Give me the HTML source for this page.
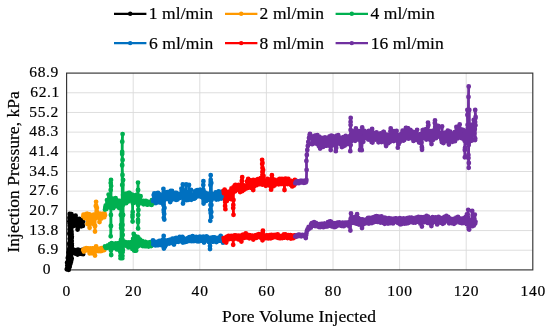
<!DOCTYPE html>
<html lang="en"><head><meta charset="utf-8"><title>Injection Pressure vs Pore Volume Injected</title>
<style>html,body{margin:0;padding:0;background:#fff}body{width:550px;height:330px;overflow:hidden}</style></head>
<body>
<svg width="550" height="330" viewBox="0 0 550 330" style="display:block">
<rect width="550" height="330" fill="#fff"/>
<path d="M66.6 92.78H532.8M66.6 112.46H532.8M66.6 132.14H532.8M66.6 151.82H532.8M66.6 171.50H532.8M66.6 191.18H532.8M66.6 210.86H532.8M66.6 230.54H532.8M66.6 250.22H532.8M133.20 73.1V269.9M199.80 73.1V269.9M266.40 73.1V269.9M333.00 73.1V269.9M399.60 73.1V269.9M466.20 73.1V269.9" stroke="#DADADA" stroke-width="0.9" fill="none"/>
<rect x="66.6" y="73.1" width="466.19999999999993" height="196.79999999999998" fill="none" stroke="#333333" stroke-width="1.15"/>
<path d="M68.3 267.9 L69.7 266.8 L69.8 264.7 L68.5 268.8 L68.0 268.8 L67.3 269.3 L69.5 260.4 L70.6 257.6 L70.1 263.3 L71.7 258.5 L68.0 267.1 L68.1 267.9 L70.9 261.4 L70.9 258.8 L70.4 262.1 L70.0 255.1 L69.0 261.4 L70.0 262.7 L71.8 249.4 L69.5 260.2 L67.6 268.0 L69.4 254.7 L70.8 257.1 L71.8 245.6 L70.7 242.3 L70.4 263.8 L70.2 243.1 L68.7 269.8 L70.9 261.9 L70.8 253.2 L71.9 250.5 L68.4 269.3 L71.7 241.0 L67.2 269.1 L69.3 243.5 L70.5 256.3 L68.9 267.8 L71.0 260.2 L71.3 237.6 L70.7 260.2 L69.4 252.1 L71.4 259.8 L69.7 248.6 L70.3 236.1 L69.4 244.6 L70.6 240.3 L69.7 251.2 L71.6 243.6 L71.6 236.0 L70.0 247.2 L69.4 233.2 L68.8 265.5 L70.7 254.9 L70.6 226.8 L71.7 237.7 L70.1 239.6 L69.0 263.4 L71.3 244.0 L69.7 232.3 L70.4 252.4 L69.8 261.4 L70.6 248.5 L71.0 240.7 L71.6 245.0 L71.3 223.4 L69.8 265.0 L70.9 243.1 L71.6 249.2 L69.7 254.9 L69.1 262.4 L69.5 244.9 L70.5 246.7 L69.6 265.3 L70.8 224.2 L69.4 234.1 L70.6 249.2 L69.8 238.8 L70.0 233.3 L69.6 234.5 L69.7 221.2 L69.3 260.6 L71.4 250.8 L69.6 222.1 L70.1 225.0 L69.7 225.8 L71.7 243.7 L71.9 217.6 L71.6 253.4 L71.1 217.4 L69.7 243.8 L71.1 242.9 L70.2 228.2 L70.3 244.2 L69.5 217.9 L69.9 226.4 L71.6 234.2 L71.3 245.3 L69.6 223.5 L71.6 238.5 L69.2 260.7 L70.6 222.6 L71.7 246.9 L70.4 216.1 L70.0 215.6 L70.3 228.7 L71.6 258.2 L71.4 214.2 L69.9 232.6 L71.1 228.6 L70.4 245.2 L69.9 218.1 L71.4 224.1 L70.3 250.0 L70.7 239.5 L70.0 219.9 L71.3 245.7 L69.5 250.7 L69.5 217.5 L71.7 237.8 L70.0 228.0 L71.4 237.9 L70.8 227.8 L70.6 232.4 L71.0 216.2 L71.8 236.6 L69.8 217.4 L70.5 234.0 L70.2 215.0 L69.9 221.0 L70.3 246.5 L70.8 234.8 L70.4 228.6 L71.0 235.8 L70.6 236.5 L71.2 222.7 L70.7 233.8 L69.6 218.8 L69.8 225.1 L71.8 243.8 L69.6 229.3 L71.3 217.3 L71.8 226.4 L70.4 223.1 L69.9 223.9 L71.4 231.4 L70.4 229.7 L70.1 228.2 L70.5 215.3 L70.8 227.6 L70.8 220.0 L70.8 231.7 L70.4 220.9 L71.4 232.8 L71.0 218.8 L70.9 219.8 L71.3 216.2 L70.6 217.3 L70.5 223.7 L71.6 215.4 L71.0 218.1 L69.3 221.4 L70.6 227.2 L71.4 222.2 L70.5 218.5 L71.7 221.4 L70.2 219.7 L69.9 221.3 L70.4 214.2 L69.7 214.0 L71.8 215.3 L72.0 217.7 L72.3 225.8 L72.6 220.6 L72.9 226.2 L73.2 218.5 L73.5 225.9 L73.8 221.9 L74.1 221.2 L74.4 216.9 L74.7 221.0 L75.0 223.2 L75.3 225.3 L75.6 215.7 L75.9 220.8 L76.2 219.1 L76.5 220.1 L76.8 225.4 L77.1 224.7 L77.4 218.9 L77.6 229.5 L77.7 226.1 L78.0 221.3 L78.3 227.0 L78.6 221.2 L78.9 220.4 L79.2 218.8 L79.5 220.5 L79.8 220.1 L80.1 222.5 L80.4 221.3 L80.7 225.9 L81.0 223.5 L81.3 226.3 L81.6 224.2 L81.9 224.3 L82.2 224.4 L82.5 220.0 L82.8 225.9 L83.1 221.6" fill="none" stroke="#000000" stroke-width="2.8" stroke-linejoin="round" stroke-linecap="round"/>
<path d="M68.3 267.9h0M69.7 266.8h0M69.8 264.7h0M68.5 268.8h0M68.0 268.8h0M67.3 269.3h0M69.5 260.4h0M70.6 257.6h0M70.1 263.3h0M71.7 258.5h0M68.0 267.1h0M68.1 267.9h0M70.9 261.4h0M70.9 258.8h0M70.4 262.1h0M70.0 255.1h0M69.0 261.4h0M70.0 262.7h0M71.8 249.4h0M69.5 260.2h0M67.6 268.0h0M69.4 254.7h0M70.8 257.1h0M71.8 245.6h0M70.7 242.3h0M70.4 263.8h0M70.2 243.1h0M68.7 269.8h0M70.9 261.9h0M70.8 253.2h0M71.9 250.5h0M68.4 269.3h0M71.7 241.0h0M67.2 269.1h0M69.3 243.5h0M70.5 256.3h0M68.9 267.8h0M71.0 260.2h0M71.3 237.6h0M70.7 260.2h0M69.4 252.1h0M71.4 259.8h0M69.7 248.6h0M70.3 236.1h0M69.4 244.6h0M70.6 240.3h0M69.7 251.2h0M71.6 243.6h0M71.6 236.0h0M70.0 247.2h0M69.4 233.2h0M68.8 265.5h0M70.7 254.9h0M70.6 226.8h0M71.7 237.7h0M70.1 239.6h0M69.0 263.4h0M71.3 244.0h0M69.7 232.3h0M70.4 252.4h0M69.8 261.4h0M70.6 248.5h0M71.0 240.7h0M71.6 245.0h0M71.3 223.4h0M69.8 265.0h0M70.9 243.1h0M71.6 249.2h0M69.7 254.9h0M69.1 262.4h0M69.5 244.9h0M70.5 246.7h0M69.6 265.3h0M70.8 224.2h0M69.4 234.1h0M70.6 249.2h0M69.8 238.8h0M70.0 233.3h0M69.6 234.5h0M69.7 221.2h0M69.3 260.6h0M71.4 250.8h0M69.6 222.1h0M70.1 225.0h0M69.7 225.8h0M71.7 243.7h0M71.9 217.6h0M71.6 253.4h0M71.1 217.4h0M69.7 243.8h0M71.1 242.9h0M70.2 228.2h0M70.3 244.2h0M69.5 217.9h0M69.9 226.4h0M71.6 234.2h0M71.3 245.3h0M69.6 223.5h0M71.6 238.5h0M69.2 260.7h0M70.6 222.6h0M71.7 246.9h0M70.4 216.1h0M70.0 215.6h0M70.3 228.7h0M71.6 258.2h0M71.4 214.2h0M69.9 232.6h0M71.1 228.6h0M70.4 245.2h0M69.9 218.1h0M71.4 224.1h0M70.3 250.0h0M70.7 239.5h0M70.0 219.9h0M71.3 245.7h0M69.5 250.7h0M69.5 217.5h0M71.7 237.8h0M70.0 228.0h0M71.4 237.9h0M70.8 227.8h0M70.6 232.4h0M71.0 216.2h0M71.8 236.6h0M69.8 217.4h0M70.5 234.0h0M70.2 215.0h0M69.9 221.0h0M70.3 246.5h0M70.8 234.8h0M70.4 228.6h0M71.0 235.8h0M70.6 236.5h0M71.2 222.7h0M70.7 233.8h0M69.6 218.8h0M69.8 225.1h0M71.8 243.8h0M69.6 229.3h0M71.3 217.3h0M71.8 226.4h0M70.4 223.1h0M69.9 223.9h0M71.4 231.4h0M70.4 229.7h0M70.1 228.2h0M70.5 215.3h0M70.8 227.6h0M70.8 220.0h0M70.8 231.7h0M70.4 220.9h0M71.4 232.8h0M71.0 218.8h0M70.9 219.8h0M71.3 216.2h0M70.6 217.3h0M70.5 223.7h0M71.6 215.4h0M71.0 218.1h0M69.3 221.4h0M70.6 227.2h0M71.4 222.2h0M70.5 218.5h0M71.7 221.4h0M70.2 219.7h0M69.9 221.3h0M70.4 214.2h0M69.7 214.0h0M71.8 215.3h0M72.0 217.7h0M72.3 225.8h0M72.6 220.6h0M72.9 226.2h0M73.2 218.5h0M73.5 225.9h0M73.8 221.9h0M74.1 221.2h0M74.4 216.9h0M74.7 221.0h0M75.0 223.2h0M75.3 225.3h0M75.6 215.7h0M75.9 220.8h0M76.2 219.1h0M76.5 220.1h0M76.8 225.4h0M77.1 224.7h0M77.4 218.9h0M77.6 229.5h0M77.7 226.1h0M78.0 221.3h0M78.3 227.0h0M78.6 221.2h0M78.9 220.4h0M79.2 218.8h0M79.5 220.5h0M79.8 220.1h0M80.1 222.5h0M80.4 221.3h0M80.7 225.9h0M81.0 223.5h0M81.3 226.3h0M81.6 224.2h0M81.9 224.3h0M82.2 224.4h0M82.5 220.0h0M82.8 225.9h0M83.1 221.6h0" fill="none" stroke="#000000" stroke-width="4.8" stroke-linecap="round"/>
<path d="M66.8 269.2 L68.2 265.9 L67.7 265.2 L67.7 264.8 L67.1 262.7 L67.3 265.6 L68.0 261.2 L68.9 264.2 L68.2 259.0 L67.8 257.9 L68.2 257.0 L68.2 256.9 L68.9 259.2 L69.4 255.9 L68.9 255.6 L69.0 253.8 L68.5 252.6 L70.3 250.9 L69.6 252.5 L70.4 249.6 L69.0 254.4 L69.3 249.5 L69.6 253.3 L69.9 252.2 L70.2 251.1 L70.5 253.0 L70.8 253.7 L71.1 249.9 L71.4 251.7 L71.7 253.5 L72.0 252.2 L72.3 251.4 L72.6 249.6 L72.9 250.4 L73.2 252.2 L73.5 249.9 L73.8 252.2 L74.1 249.9 L74.4 251.7 L74.7 251.1 L75.0 252.4 L75.3 250.8 L75.6 253.7 L75.9 253.4 L76.2 250.5 L76.5 253.7 L76.8 250.3 L77.1 251.7 L77.4 251.4 L77.6 254.6 L77.7 253.6 L78.0 249.7 L78.3 251.4 L78.6 250.4 L78.9 252.8 L79.2 250.4 L79.5 250.9 L79.8 250.6 L80.1 252.9 L80.4 253.7 L80.7 250.4 L81.0 251.4 L81.3 253.7 L81.6 251.3 L81.9 253.9 L82.2 249.9 L82.5 251.4 L82.8 253.6 L83.1 254.2" fill="none" stroke="#000000" stroke-width="2.8" stroke-linejoin="round" stroke-linecap="round"/>
<path d="M66.8 269.2h0M68.2 265.9h0M67.7 265.2h0M67.7 264.8h0M67.1 262.7h0M67.3 265.6h0M68.0 261.2h0M68.9 264.2h0M68.2 259.0h0M67.8 257.9h0M68.2 257.0h0M68.2 256.9h0M68.9 259.2h0M69.4 255.9h0M68.9 255.6h0M69.0 253.8h0M68.5 252.6h0M70.3 250.9h0M69.6 252.5h0M70.4 249.6h0M69.0 254.4h0M69.3 249.5h0M69.6 253.3h0M69.9 252.2h0M70.2 251.1h0M70.5 253.0h0M70.8 253.7h0M71.1 249.9h0M71.4 251.7h0M71.7 253.5h0M72.0 252.2h0M72.3 251.4h0M72.6 249.6h0M72.9 250.4h0M73.2 252.2h0M73.5 249.9h0M73.8 252.2h0M74.1 249.9h0M74.4 251.7h0M74.7 251.1h0M75.0 252.4h0M75.3 250.8h0M75.6 253.7h0M75.9 253.4h0M76.2 250.5h0M76.5 253.7h0M76.8 250.3h0M77.1 251.7h0M77.4 251.4h0M77.6 254.6h0M77.7 253.6h0M78.0 249.7h0M78.3 251.4h0M78.6 250.4h0M78.9 252.8h0M79.2 250.4h0M79.5 250.9h0M79.8 250.6h0M80.1 252.9h0M80.4 253.7h0M80.7 250.4h0M81.0 251.4h0M81.3 253.7h0M81.6 251.3h0M81.9 253.9h0M82.2 249.9h0M82.5 251.4h0M82.8 253.6h0M83.1 254.2h0" fill="none" stroke="#000000" stroke-width="4.8" stroke-linecap="round"/>
<path d="M83.2 216.3 L83.5 214.7 L83.9 216.3 L84.2 215.1 L84.5 215.4 L84.8 218.1 L85.2 216.3 L85.5 216.3 L85.8 218.3 L86.2 215.6 L86.5 214.0 L86.8 217.5 L87.2 213.9 L87.5 214.0 L87.4 224.0 L87.8 217.1 L88.1 215.3 L88.5 218.3 L88.8 215.3 L89.1 215.7 L89.5 214.4 L89.7 224.0 L89.6 227.8 L89.7 224.0 L89.8 214.7 L90.1 216.9 L90.5 219.2 L90.8 216.1 L91.1 217.2 L91.4 215.7 L91.8 218.3 L92.1 218.4 L92.4 216.3 L92.4 223.5 L92.8 218.3 L93.1 215.5 L93.4 215.7 L93.8 214.7 L94.1 215.9 L94.4 218.5 L94.7 215.6 L94.8 226.0 L95.0 231.6 L95.1 226.0 L95.1 216.4 L95.4 216.2 L95.7 217.3 L96.2 206.0 L96.1 201.8 L95.8 206.0 L96.1 218.0 L96.4 216.5 L96.7 217.1 L96.9 208.0 L96.9 212.0 L97.1 214.3 L97.4 216.0 L97.7 215.0 L98.0 215.3 L98.4 216.5 L98.7 217.2 L99.0 214.8 L99.5 222.0 L99.4 216.8 L99.7 214.0 L100.0 213.6 L100.4 215.5 L100.7 214.6 L101.0 215.1 L101.3 216.8 L101.3 218.5 L101.7 216.1 L102.0 214.5 L102.3 214.3 L102.7 214.8 L103.0 216.7 L103.3 213.7 L103.7 216.8 L104.0 215.0 L104.3 217.2 L104.6 213.7 L105.0 215.2" fill="none" stroke="#FF9900" stroke-width="2.8" stroke-linejoin="round" stroke-linecap="round"/>
<path d="M83.2 216.3h0M83.5 214.7h0M83.9 216.3h0M84.2 215.1h0M84.5 215.4h0M84.8 218.1h0M85.2 216.3h0M85.5 216.3h0M85.8 218.3h0M86.2 215.6h0M86.5 214.0h0M86.8 217.5h0M87.2 213.9h0M87.5 214.0h0M87.4 224.0h0M87.8 217.1h0M88.1 215.3h0M88.5 218.3h0M88.8 215.3h0M89.1 215.7h0M89.5 214.4h0M89.7 224.0h0M89.6 227.8h0M89.7 224.0h0M89.8 214.7h0M90.1 216.9h0M90.5 219.2h0M90.8 216.1h0M91.1 217.2h0M91.4 215.7h0M91.8 218.3h0M92.1 218.4h0M92.4 216.3h0M92.4 223.5h0M92.8 218.3h0M93.1 215.5h0M93.4 215.7h0M93.8 214.7h0M94.1 215.9h0M94.4 218.5h0M94.7 215.6h0M94.8 226.0h0M95.0 231.6h0M95.1 226.0h0M95.1 216.4h0M95.4 216.2h0M95.7 217.3h0M96.2 206.0h0M96.1 201.8h0M95.8 206.0h0M96.1 218.0h0M96.4 216.5h0M96.7 217.1h0M96.9 208.0h0M96.9 212.0h0M97.1 214.3h0M97.4 216.0h0M97.7 215.0h0M98.0 215.3h0M98.4 216.5h0M98.7 217.2h0M99.0 214.8h0M99.5 222.0h0M99.4 216.8h0M99.7 214.0h0M100.0 213.6h0M100.4 215.5h0M100.7 214.6h0M101.0 215.1h0M101.3 216.8h0M101.3 218.5h0M101.7 216.1h0M102.0 214.5h0M102.3 214.3h0M102.7 214.8h0M103.0 216.7h0M103.3 213.7h0M103.7 216.8h0M104.0 215.0h0M104.3 217.2h0M104.6 213.7h0M105.0 215.2h0" fill="none" stroke="#FF9900" stroke-width="4.8" stroke-linecap="round"/>
<path d="M83.2 249.9 L83.5 250.0 L83.9 251.6 L84.2 249.9 L84.5 251.0 L84.8 248.6 L85.2 249.8 L85.5 249.7 L85.8 249.7 L86.2 248.2 L86.5 250.2 L86.8 248.3 L87.2 249.2 L87.5 248.5 L87.8 249.7 L88.1 248.4 L88.5 250.6 L88.8 248.6 L89.1 251.0 L89.5 249.6 L89.7 253.4 L89.8 249.3 L90.1 250.0 L90.5 248.5 L90.8 248.7 L91.1 250.7 L91.4 248.6 L91.8 249.3 L91.9 253.0 L92.1 248.5 L92.4 250.5 L92.8 248.4 L93.1 250.7 L93.4 251.1 L93.8 250.4 L94.1 250.6 L94.4 250.0 L94.7 250.0 L95.0 255.6 L95.1 249.9 L95.4 250.6 L95.7 249.4 L96.1 251.1 L96.1 246.3 L96.4 250.1 L96.7 248.9 L97.1 248.7 L97.4 250.0 L97.7 250.4 L98.0 250.6 L98.4 249.9 L98.7 249.8 L99.0 251.2 L99.4 250.9 L99.7 250.5 L100.0 248.7 L100.4 249.7 L100.7 251.0 L101.0 250.6 L101.3 248.2 L101.7 250.4 L102.0 250.8 L102.3 250.5 L102.7 249.5 L103.0 248.5 L103.3 249.5 L103.7 248.0 L104.0 248.4 L104.3 250.0 L104.6 248.4 L105.0 248.2" fill="none" stroke="#FF9900" stroke-width="2.8" stroke-linejoin="round" stroke-linecap="round"/>
<path d="M83.2 249.9h0M83.5 250.0h0M83.9 251.6h0M84.2 249.9h0M84.5 251.0h0M84.8 248.6h0M85.2 249.8h0M85.5 249.7h0M85.8 249.7h0M86.2 248.2h0M86.5 250.2h0M86.8 248.3h0M87.2 249.2h0M87.5 248.5h0M87.8 249.7h0M88.1 248.4h0M88.5 250.6h0M88.8 248.6h0M89.1 251.0h0M89.5 249.6h0M89.7 253.4h0M89.8 249.3h0M90.1 250.0h0M90.5 248.5h0M90.8 248.7h0M91.1 250.7h0M91.4 248.6h0M91.8 249.3h0M91.9 253.0h0M92.1 248.5h0M92.4 250.5h0M92.8 248.4h0M93.1 250.7h0M93.4 251.1h0M93.8 250.4h0M94.1 250.6h0M94.4 250.0h0M94.7 250.0h0M95.0 255.6h0M95.1 249.9h0M95.4 250.6h0M95.7 249.4h0M96.1 251.1h0M96.1 246.3h0M96.4 250.1h0M96.7 248.9h0M97.1 248.7h0M97.4 250.0h0M97.7 250.4h0M98.0 250.6h0M98.4 249.9h0M98.7 249.8h0M99.0 251.2h0M99.4 250.9h0M99.7 250.5h0M100.0 248.7h0M100.4 249.7h0M100.7 251.0h0M101.0 250.6h0M101.3 248.2h0M101.7 250.4h0M102.0 250.8h0M102.3 250.5h0M102.7 249.5h0M103.0 248.5h0M103.3 249.5h0M103.7 248.0h0M104.0 248.4h0M104.3 250.0h0M104.6 248.4h0M105.0 248.2h0" fill="none" stroke="#FF9900" stroke-width="4.8" stroke-linecap="round"/>
<path d="M105.0 209.6 L105.3 207.3 L105.7 205.6 L106.0 205.5 L106.3 209.1 L106.6 206.4 L107.0 200.1 L107.3 200.2 L107.6 202.4 L108.0 207.2 L108.3 200.2 L108.6 194.6 L109.0 201.5 L109.3 201.5 L109.6 203.9 L109.9 200.0 L110.3 202.9 L110.6 207.8 L110.7 190.0 L110.7 183.0 L111.0 179.9 L111.1 186.0 L111.0 200.0 L110.9 215.0 L110.8 226.0 L110.7 236.3 L111.0 226.0 L110.9 215.0 L110.8 205.0 L110.9 204.8 L111.3 208.0 L111.6 200.9 L111.9 198.8 L112.3 202.6 L112.6 199.1 L112.9 198.6 L113.2 208.2 L113.6 200.5 L113.9 203.7 L114.2 206.8 L114.6 201.6 L114.9 198.8 L115.2 206.4 L115.6 198.2 L115.9 205.9 L116.2 205.8 L116.5 200.4 L116.9 200.5 L117.2 201.6 L117.5 205.3 L117.9 205.5 L118.2 203.8 L118.5 206.3 L118.9 200.8 L119.2 208.1 L119.5 207.2 L119.8 200.8 L120.2 205.8 L120.5 205.9 L120.8 207.3 L120.8 215.0 L121.1 228.0 L121.0 240.0 L121.0 250.0 L121.0 240.0 L121.1 225.0 L121.2 202.8 L121.5 204.7 L121.8 201.7 L122.2 202.7 L122.3 185.0 L122.5 175.0 L122.2 165.5 L122.6 160.0 L122.2 154.0 L122.2 152.0 L122.2 141.7 L122.6 134.1 L122.3 141.7 L122.2 152.0 L122.2 165.0 L122.2 185.0 L122.5 205.0 L122.5 225.0 L122.5 240.0 L122.5 252.0 L122.2 245.0 L122.4 230.0 L122.3 215.0 L122.5 204.8 L122.8 205.2 L123.1 180.0 L123.1 195.0 L123.1 215.0 L122.7 235.0 L122.8 250.0 L122.7 235.0 L122.7 215.0 L123.1 204.4 L123.5 201.9 L123.8 201.5 L124.1 195.7 L124.5 202.0 L124.8 197.2 L125.1 194.0 L125.5 196.6 L125.8 197.4 L126.1 203.2 L126.4 202.0 L126.8 193.7 L127.1 197.6 L127.4 196.6 L127.8 198.4 L128.1 201.6 L128.4 201.1 L128.8 192.8 L129.1 200.4 L129.4 192.9 L129.7 197.8 L130.1 194.9 L130.4 196.6 L130.7 195.9 L131.1 196.2 L131.4 200.5 L131.7 194.7 L132.1 194.6 L132.4 200.8 L132.7 212.0 L132.5 217.0 L132.6 221.5 L132.5 215.0 L132.7 202.8 L133.1 202.8 L133.4 195.9 L133.7 202.9 L134.0 197.6 L134.4 196.1 L134.7 199.0 L135.0 201.2 L135.4 197.1 L135.7 195.1 L136.0 200.1 L136.4 195.2 L136.7 201.2 L137.0 194.7 L137.3 202.3 L137.7 195.4 L138.0 200.4 L138.0 190.0 L138.0 182.6 L138.1 190.0 L138.1 205.0 L138.2 215.0 L138.0 222.0 L138.1 228.5 L138.0 220.0 L138.4 210.0 L138.3 200.7 L138.7 203.0 L139.0 197.2 L139.3 201.2 L139.7 197.6 L140.0 199.6 L140.3 196.4 L140.6 196.2 L141.0 202.7 L141.3 201.6 L141.6 202.0 L142.0 202.7 L142.3 203.4 L142.6 201.9 L143.0 203.6 L143.3 200.9 L143.6 204.3 L143.9 203.4 L144.3 203.3 L144.6 202.1 L144.9 203.1 L145.3 202.0 L145.6 203.5 L145.9 201.0 L146.3 202.1 L146.6 201.8 L146.9 204.5 L147.2 203.0 L147.6 201.6 L147.9 204.6 L148.2 202.3 L148.6 203.5 L148.9 202.2 L149.2 202.4 L149.6 203.2 L149.9 202.8 L150.2 202.3 L150.5 204.5 L150.9 203.2 L151.2 203.7 L151.5 204.9 L151.9 200.1 L152.2 201.6 L152.5 202.1 L152.9 203.5" fill="none" stroke="#00B050" stroke-width="2.8" stroke-linejoin="round" stroke-linecap="round"/>
<path d="M105.0 209.6h0M105.3 207.3h0M105.7 205.6h0M106.0 205.5h0M106.3 209.1h0M106.6 206.4h0M107.0 200.1h0M107.3 200.2h0M107.6 202.4h0M108.0 207.2h0M108.3 200.2h0M108.6 194.6h0M109.0 201.5h0M109.3 201.5h0M109.6 203.9h0M109.9 200.0h0M110.3 202.9h0M110.6 207.8h0M110.7 190.0h0M110.7 183.0h0M111.0 179.9h0M111.1 186.0h0M111.0 200.0h0M110.9 215.0h0M110.8 226.0h0M110.7 236.3h0M111.0 226.0h0M110.9 215.0h0M110.8 205.0h0M110.9 204.8h0M111.3 208.0h0M111.6 200.9h0M111.9 198.8h0M112.3 202.6h0M112.6 199.1h0M112.9 198.6h0M113.2 208.2h0M113.6 200.5h0M113.9 203.7h0M114.2 206.8h0M114.6 201.6h0M114.9 198.8h0M115.2 206.4h0M115.6 198.2h0M115.9 205.9h0M116.2 205.8h0M116.5 200.4h0M116.9 200.5h0M117.2 201.6h0M117.5 205.3h0M117.9 205.5h0M118.2 203.8h0M118.5 206.3h0M118.9 200.8h0M119.2 208.1h0M119.5 207.2h0M119.8 200.8h0M120.2 205.8h0M120.5 205.9h0M120.8 207.3h0M120.8 215.0h0M121.1 228.0h0M121.0 240.0h0M121.0 250.0h0M121.0 240.0h0M121.1 225.0h0M121.2 202.8h0M121.5 204.7h0M121.8 201.7h0M122.2 202.7h0M122.3 185.0h0M122.5 175.0h0M122.2 165.5h0M122.6 160.0h0M122.2 154.0h0M122.2 152.0h0M122.2 141.7h0M122.6 134.1h0M122.3 141.7h0M122.2 152.0h0M122.2 165.0h0M122.2 185.0h0M122.5 205.0h0M122.5 225.0h0M122.5 240.0h0M122.5 252.0h0M122.2 245.0h0M122.4 230.0h0M122.3 215.0h0M122.5 204.8h0M122.8 205.2h0M123.1 180.0h0M123.1 195.0h0M123.1 215.0h0M122.7 235.0h0M122.8 250.0h0M122.7 235.0h0M122.7 215.0h0M123.1 204.4h0M123.5 201.9h0M123.8 201.5h0M124.1 195.7h0M124.5 202.0h0M124.8 197.2h0M125.1 194.0h0M125.5 196.6h0M125.8 197.4h0M126.1 203.2h0M126.4 202.0h0M126.8 193.7h0M127.1 197.6h0M127.4 196.6h0M127.8 198.4h0M128.1 201.6h0M128.4 201.1h0M128.8 192.8h0M129.1 200.4h0M129.4 192.9h0M129.7 197.8h0M130.1 194.9h0M130.4 196.6h0M130.7 195.9h0M131.1 196.2h0M131.4 200.5h0M131.7 194.7h0M132.1 194.6h0M132.4 200.8h0M132.7 212.0h0M132.5 217.0h0M132.6 221.5h0M132.5 215.0h0M132.7 202.8h0M133.1 202.8h0M133.4 195.9h0M133.7 202.9h0M134.0 197.6h0M134.4 196.1h0M134.7 199.0h0M135.0 201.2h0M135.4 197.1h0M135.7 195.1h0M136.0 200.1h0M136.4 195.2h0M136.7 201.2h0M137.0 194.7h0M137.3 202.3h0M137.7 195.4h0M138.0 200.4h0M138.0 190.0h0M138.0 182.6h0M138.1 190.0h0M138.1 205.0h0M138.2 215.0h0M138.0 222.0h0M138.1 228.5h0M138.0 220.0h0M138.4 210.0h0M138.3 200.7h0M138.7 203.0h0M139.0 197.2h0M139.3 201.2h0M139.7 197.6h0M140.0 199.6h0M140.3 196.4h0M140.6 196.2h0M141.0 202.7h0M141.3 201.6h0M141.6 202.0h0M142.0 202.7h0M142.3 203.4h0M142.6 201.9h0M143.0 203.6h0M143.3 200.9h0M143.6 204.3h0M143.9 203.4h0M144.3 203.3h0M144.6 202.1h0M144.9 203.1h0M145.3 202.0h0M145.6 203.5h0M145.9 201.0h0M146.3 202.1h0M146.6 201.8h0M146.9 204.5h0M147.2 203.0h0M147.6 201.6h0M147.9 204.6h0M148.2 202.3h0M148.6 203.5h0M148.9 202.2h0M149.2 202.4h0M149.6 203.2h0M149.9 202.8h0M150.2 202.3h0M150.5 204.5h0M150.9 203.2h0M151.2 203.7h0M151.5 204.9h0M151.9 200.1h0M152.2 201.6h0M152.5 202.1h0M152.9 203.5h0" fill="none" stroke="#00B050" stroke-width="4.8" stroke-linecap="round"/>
<path d="M105.0 246.3 L105.3 246.6 L105.7 247.8 L106.0 246.9 L106.3 247.0 L106.6 247.8 L107.0 247.8 L107.3 246.5 L107.6 246.6 L108.0 245.5 L108.3 246.2 L108.6 246.2 L109.0 246.5 L109.3 246.9 L109.6 247.6 L109.9 244.2 L110.3 247.4 L110.6 243.9 L110.9 246.5 L110.8 250.0 L111.2 255.0 L111.1 250.0 L111.3 243.9 L111.6 243.2 L111.9 246.9 L112.3 243.5 L112.6 247.2 L112.9 247.7 L113.2 247.1 L113.6 247.8 L113.9 247.5 L114.2 246.7 L114.6 247.0 L114.9 247.9 L115.2 244.4 L115.6 243.8 L115.9 243.4 L116.2 243.9 L116.5 245.9 L116.9 249.4 L117.2 247.8 L117.5 246.2 L117.9 247.7 L118.2 245.2 L118.5 243.1 L118.9 246.7 L119.2 245.8 L119.5 247.5 L119.8 247.7 L120.2 244.8 L120.2 250.0 L120.5 256.0 L120.5 258.2 L120.3 252.0 L120.5 246.8 L120.8 244.6 L121.2 246.2 L121.5 244.3 L121.8 244.9 L122.2 243.4 L122.4 250.0 L122.4 256.0 L122.3 258.2 L122.4 252.0 L122.5 247.1 L122.8 246.0 L123.1 243.2 L123.5 244.6 L123.8 245.6 L124.1 245.2 L124.5 244.1 L124.8 241.9 L125.1 242.1 L125.5 244.4 L125.8 245.5 L126.1 244.7 L126.4 244.9 L126.8 244.9 L127.1 242.9 L127.4 244.5 L127.8 242.6 L128.1 242.4 L128.4 247.4 L128.8 244.4 L129.1 246.7 L129.4 243.7 L129.7 244.6 L130.1 244.5 L130.4 247.2 L130.7 245.0 L131.1 242.2 L131.4 245.0 L131.7 243.3 L132.1 242.7 L132.4 248.9 L132.7 243.4 L133.1 239.0 L133.4 240.3 L133.7 234.0 L134.1 250.5 L134.0 239.1 L134.4 238.6 L134.7 235.9 L135.0 245.6 L135.4 245.7 L135.7 237.6 L136.1 237.5 L136.2 250.5 L136.0 245.4 L136.4 244.2 L136.7 242.1 L137.0 239.7 L137.3 246.8 L137.7 236.9 L138.0 246.2 L138.3 240.2 L138.7 238.5 L139.0 242.1 L139.3 240.7 L139.7 241.7 L140.0 239.6 L140.3 242.0 L140.6 243.8 L141.0 242.5 L141.3 245.4 L141.6 243.5 L142.0 241.0 L142.3 244.4 L142.6 242.7 L143.0 246.2 L143.3 244.4 L143.6 243.7 L143.9 243.6 L144.3 244.9 L144.6 246.0 L144.9 241.9 L145.3 244.0 L145.6 246.0 L145.9 242.1 L146.3 246.0 L146.6 244.8 L146.9 246.2 L147.2 245.3 L147.6 243.6 L147.9 244.7 L148.2 242.9 L148.6 246.6 L148.9 244.9 L149.2 244.2 L149.6 243.1 L149.9 245.7 L150.2 242.1 L150.5 245.5 L150.9 244.5 L151.2 246.0 L151.5 243.9 L151.9 242.4 L152.2 242.3 L152.5 243.1 L152.9 243.3" fill="none" stroke="#00B050" stroke-width="2.8" stroke-linejoin="round" stroke-linecap="round"/>
<path d="M105.0 246.3h0M105.3 246.6h0M105.7 247.8h0M106.0 246.9h0M106.3 247.0h0M106.6 247.8h0M107.0 247.8h0M107.3 246.5h0M107.6 246.6h0M108.0 245.5h0M108.3 246.2h0M108.6 246.2h0M109.0 246.5h0M109.3 246.9h0M109.6 247.6h0M109.9 244.2h0M110.3 247.4h0M110.6 243.9h0M110.9 246.5h0M110.8 250.0h0M111.2 255.0h0M111.1 250.0h0M111.3 243.9h0M111.6 243.2h0M111.9 246.9h0M112.3 243.5h0M112.6 247.2h0M112.9 247.7h0M113.2 247.1h0M113.6 247.8h0M113.9 247.5h0M114.2 246.7h0M114.6 247.0h0M114.9 247.9h0M115.2 244.4h0M115.6 243.8h0M115.9 243.4h0M116.2 243.9h0M116.5 245.9h0M116.9 249.4h0M117.2 247.8h0M117.5 246.2h0M117.9 247.7h0M118.2 245.2h0M118.5 243.1h0M118.9 246.7h0M119.2 245.8h0M119.5 247.5h0M119.8 247.7h0M120.2 244.8h0M120.2 250.0h0M120.5 256.0h0M120.5 258.2h0M120.3 252.0h0M120.5 246.8h0M120.8 244.6h0M121.2 246.2h0M121.5 244.3h0M121.8 244.9h0M122.2 243.4h0M122.4 250.0h0M122.4 256.0h0M122.3 258.2h0M122.4 252.0h0M122.5 247.1h0M122.8 246.0h0M123.1 243.2h0M123.5 244.6h0M123.8 245.6h0M124.1 245.2h0M124.5 244.1h0M124.8 241.9h0M125.1 242.1h0M125.5 244.4h0M125.8 245.5h0M126.1 244.7h0M126.4 244.9h0M126.8 244.9h0M127.1 242.9h0M127.4 244.5h0M127.8 242.6h0M128.1 242.4h0M128.4 247.4h0M128.8 244.4h0M129.1 246.7h0M129.4 243.7h0M129.7 244.6h0M130.1 244.5h0M130.4 247.2h0M130.7 245.0h0M131.1 242.2h0M131.4 245.0h0M131.7 243.3h0M132.1 242.7h0M132.4 248.9h0M132.7 243.4h0M133.1 239.0h0M133.4 240.3h0M133.7 234.0h0M134.1 250.5h0M134.0 239.1h0M134.4 238.6h0M134.7 235.9h0M135.0 245.6h0M135.4 245.7h0M135.7 237.6h0M136.1 237.5h0M136.2 250.5h0M136.0 245.4h0M136.4 244.2h0M136.7 242.1h0M137.0 239.7h0M137.3 246.8h0M137.7 236.9h0M138.0 246.2h0M138.3 240.2h0M138.7 238.5h0M139.0 242.1h0M139.3 240.7h0M139.7 241.7h0M140.0 239.6h0M140.3 242.0h0M140.6 243.8h0M141.0 242.5h0M141.3 245.4h0M141.6 243.5h0M142.0 241.0h0M142.3 244.4h0M142.6 242.7h0M143.0 246.2h0M143.3 244.4h0M143.6 243.7h0M143.9 243.6h0M144.3 244.9h0M144.6 246.0h0M144.9 241.9h0M145.3 244.0h0M145.6 246.0h0M145.9 242.1h0M146.3 246.0h0M146.6 244.8h0M146.9 246.2h0M147.2 245.3h0M147.6 243.6h0M147.9 244.7h0M148.2 242.9h0M148.6 246.6h0M148.9 244.9h0M149.2 244.2h0M149.6 243.1h0M149.9 245.7h0M150.2 242.1h0M150.5 245.5h0M150.9 244.5h0M151.2 246.0h0M151.5 243.9h0M151.9 242.4h0M152.2 242.3h0M152.5 243.1h0M152.9 243.3h0" fill="none" stroke="#00B050" stroke-width="4.8" stroke-linecap="round"/>
<path d="M153.0 200.9 L153.3 199.8 L153.7 195.1 L154.0 194.6 L154.3 193.5 L154.7 197.3 L155.0 196.4 L155.3 200.0 L155.6 197.3 L156.0 193.3 L155.9 203.0 L156.3 196.9 L156.6 200.1 L157.0 195.4 L157.3 193.5 L157.6 200.4 L158.0 192.8 L158.3 195.7 L158.6 200.6 L158.9 193.9 L159.3 199.8 L159.6 202.4 L159.9 195.8 L160.3 202.6 L160.6 197.5 L160.9 201.4 L161.3 197.7 L161.6 196.0 L161.9 196.1 L162.2 195.7 L162.6 194.3 L162.9 195.5 L163.2 201.2 L163.6 200.9 L163.8 192.0 L163.4 189.0 L163.6 195.0 L163.4 205.0 L163.8 212.0 L163.8 217.8 L163.7 210.0 L163.9 196.7 L164.2 199.5 L164.5 208.0 L164.2 214.0 L164.3 219.5 L164.2 208.0 L164.6 198.4 L164.9 193.6 L165.2 194.6 L165.5 193.6 L165.9 199.1 L166.2 193.5 L166.5 194.6 L166.9 192.7 L167.2 192.1 L167.5 197.0 L167.9 195.3 L168.2 193.3 L168.5 194.1 L168.8 199.3 L169.2 191.8 L169.5 198.4 L169.8 197.1 L170.2 202.1 L170.5 198.1 L170.8 190.8 L171.2 198.7 L171.5 193.7 L171.8 199.8 L172.0 191.0 L172.1 193.6 L172.5 198.9 L172.8 194.2 L173.1 193.3 L173.5 196.6 L173.8 194.3 L174.1 198.4 L174.5 197.4 L174.8 193.2 L175.1 196.0 L175.4 193.2 L175.8 195.5 L176.1 199.9 L176.4 192.9 L176.8 196.7 L177.1 194.9 L177.4 199.5 L177.8 193.8 L178.1 197.7 L178.4 196.2 L178.7 195.9 L179.1 197.2 L179.4 198.1 L179.7 196.5 L180.1 196.6 L180.4 197.6 L180.7 193.9 L181.1 194.1 L181.4 188.6 L181.7 190.8 L182.0 189.7 L182.4 197.6 L182.7 190.1 L182.8 184.5 L182.8 190.0 L183.0 203.5 L183.0 195.6 L183.4 197.2 L183.7 199.2 L184.0 190.6 L184.4 195.6 L184.7 193.4 L185.0 194.8 L185.3 196.7 L185.7 191.9 L186.1 184.5 L186.0 192.0 L186.3 200.2 L186.7 194.5 L187.0 195.4 L187.3 199.8 L187.7 193.1 L188.0 193.0 L188.3 199.8 L188.6 199.0 L189.0 198.3 L189.0 185.0 L189.3 199.5 L189.6 191.9 L190.0 196.1 L190.3 195.1 L190.6 194.1 L191.0 189.8 L191.3 199.8 L191.6 199.2 L191.9 197.9 L192.3 198.5 L192.6 196.5 L192.9 196.8 L193.3 195.7 L193.6 196.3 L193.9 195.3 L194.3 198.7 L194.6 193.2 L194.9 191.4 L195.2 198.0 L195.6 192.2 L195.9 194.1 L196.2 190.6 L196.6 191.9 L196.9 191.8 L197.2 190.2 L197.6 196.3 L197.9 194.1 L198.2 191.1 L198.5 193.2 L198.9 194.5 L199.2 192.0 L199.5 191.3 L199.9 192.6 L200.2 189.6 L200.5 196.5 L200.9 194.0 L201.2 191.8 L201.5 192.0 L201.8 191.1 L202.2 197.3 L202.5 191.1 L202.8 194.6 L203.2 192.4 L203.5 199.8 L203.3 185.0 L203.4 181.2 L203.4 190.0 L203.6 202.0 L203.6 203.5 L203.8 199.3 L204.2 196.9 L204.5 199.0 L204.8 196.9 L205.1 198.8 L205.5 194.0 L205.8 193.0 L206.1 197.7 L206.5 200.8 L206.8 196.2 L207.1 199.9 L207.5 195.8 L207.8 196.4 L208.1 195.0 L208.4 197.1 L208.8 195.2 L209.1 199.5 L209.4 196.2 L209.8 194.9 L210.1 197.0 L210.4 192.9 L210.4 185.0 L210.7 180.0 L210.7 175.2 L210.7 182.0 L210.4 195.0 L210.5 205.0 L210.7 213.0 L210.3 220.8 L210.3 210.0 L210.8 196.6 L211.1 199.4 L211.3 183.0 L211.5 200.0 L211.3 212.0 L211.3 217.0 L211.4 205.0 L211.4 194.8 L211.7 196.3 L212.1 199.1 L212.4 195.5 L212.7 194.2 L213.1 195.8 L213.4 198.4 L213.7 195.2 L214.1 196.3 L214.4 194.0 L214.7 198.0 L215.0 193.9 L215.4 198.1 L215.7 192.3 L216.0 197.1 L216.4 199.5 L216.7 194.9 L217.0 193.8 L217.4 195.6 L217.7 192.9 L218.0 196.2 L218.3 199.3 L218.7 191.4 L219.0 197.3 L219.3 197.5 L219.7 193.1 L220.0 195.3 L220.3 192.0 L220.7 194.9 L221.0 195.6 L221.3 198.5 L221.6 193.8 L222.0 191.9 L222.3 191.7 L222.6 192.4 L223.0 198.0 L223.3 198.1" fill="none" stroke="#0070C0" stroke-width="2.8" stroke-linejoin="round" stroke-linecap="round"/>
<path d="M153.0 200.9h0M153.3 199.8h0M153.7 195.1h0M154.0 194.6h0M154.3 193.5h0M154.7 197.3h0M155.0 196.4h0M155.3 200.0h0M155.6 197.3h0M156.0 193.3h0M155.9 203.0h0M156.3 196.9h0M156.6 200.1h0M157.0 195.4h0M157.3 193.5h0M157.6 200.4h0M158.0 192.8h0M158.3 195.7h0M158.6 200.6h0M158.9 193.9h0M159.3 199.8h0M159.6 202.4h0M159.9 195.8h0M160.3 202.6h0M160.6 197.5h0M160.9 201.4h0M161.3 197.7h0M161.6 196.0h0M161.9 196.1h0M162.2 195.7h0M162.6 194.3h0M162.9 195.5h0M163.2 201.2h0M163.6 200.9h0M163.8 192.0h0M163.4 189.0h0M163.6 195.0h0M163.4 205.0h0M163.8 212.0h0M163.8 217.8h0M163.7 210.0h0M163.9 196.7h0M164.2 199.5h0M164.5 208.0h0M164.2 214.0h0M164.3 219.5h0M164.2 208.0h0M164.6 198.4h0M164.9 193.6h0M165.2 194.6h0M165.5 193.6h0M165.9 199.1h0M166.2 193.5h0M166.5 194.6h0M166.9 192.7h0M167.2 192.1h0M167.5 197.0h0M167.9 195.3h0M168.2 193.3h0M168.5 194.1h0M168.8 199.3h0M169.2 191.8h0M169.5 198.4h0M169.8 197.1h0M170.2 202.1h0M170.5 198.1h0M170.8 190.8h0M171.2 198.7h0M171.5 193.7h0M171.8 199.8h0M172.0 191.0h0M172.1 193.6h0M172.5 198.9h0M172.8 194.2h0M173.1 193.3h0M173.5 196.6h0M173.8 194.3h0M174.1 198.4h0M174.5 197.4h0M174.8 193.2h0M175.1 196.0h0M175.4 193.2h0M175.8 195.5h0M176.1 199.9h0M176.4 192.9h0M176.8 196.7h0M177.1 194.9h0M177.4 199.5h0M177.8 193.8h0M178.1 197.7h0M178.4 196.2h0M178.7 195.9h0M179.1 197.2h0M179.4 198.1h0M179.7 196.5h0M180.1 196.6h0M180.4 197.6h0M180.7 193.9h0M181.1 194.1h0M181.4 188.6h0M181.7 190.8h0M182.0 189.7h0M182.4 197.6h0M182.7 190.1h0M182.8 184.5h0M182.8 190.0h0M183.0 203.5h0M183.0 195.6h0M183.4 197.2h0M183.7 199.2h0M184.0 190.6h0M184.4 195.6h0M184.7 193.4h0M185.0 194.8h0M185.3 196.7h0M185.7 191.9h0M186.1 184.5h0M186.0 192.0h0M186.3 200.2h0M186.7 194.5h0M187.0 195.4h0M187.3 199.8h0M187.7 193.1h0M188.0 193.0h0M188.3 199.8h0M188.6 199.0h0M189.0 198.3h0M189.0 185.0h0M189.3 199.5h0M189.6 191.9h0M190.0 196.1h0M190.3 195.1h0M190.6 194.1h0M191.0 189.8h0M191.3 199.8h0M191.6 199.2h0M191.9 197.9h0M192.3 198.5h0M192.6 196.5h0M192.9 196.8h0M193.3 195.7h0M193.6 196.3h0M193.9 195.3h0M194.3 198.7h0M194.6 193.2h0M194.9 191.4h0M195.2 198.0h0M195.6 192.2h0M195.9 194.1h0M196.2 190.6h0M196.6 191.9h0M196.9 191.8h0M197.2 190.2h0M197.6 196.3h0M197.9 194.1h0M198.2 191.1h0M198.5 193.2h0M198.9 194.5h0M199.2 192.0h0M199.5 191.3h0M199.9 192.6h0M200.2 189.6h0M200.5 196.5h0M200.9 194.0h0M201.2 191.8h0M201.5 192.0h0M201.8 191.1h0M202.2 197.3h0M202.5 191.1h0M202.8 194.6h0M203.2 192.4h0M203.5 199.8h0M203.3 185.0h0M203.4 181.2h0M203.4 190.0h0M203.6 202.0h0M203.6 203.5h0M203.8 199.3h0M204.2 196.9h0M204.5 199.0h0M204.8 196.9h0M205.1 198.8h0M205.5 194.0h0M205.8 193.0h0M206.1 197.7h0M206.5 200.8h0M206.8 196.2h0M207.1 199.9h0M207.5 195.8h0M207.8 196.4h0M208.1 195.0h0M208.4 197.1h0M208.8 195.2h0M209.1 199.5h0M209.4 196.2h0M209.8 194.9h0M210.1 197.0h0M210.4 192.9h0M210.4 185.0h0M210.7 180.0h0M210.7 175.2h0M210.7 182.0h0M210.4 195.0h0M210.5 205.0h0M210.7 213.0h0M210.3 220.8h0M210.3 210.0h0M210.8 196.6h0M211.1 199.4h0M211.3 183.0h0M211.5 200.0h0M211.3 212.0h0M211.3 217.0h0M211.4 205.0h0M211.4 194.8h0M211.7 196.3h0M212.1 199.1h0M212.4 195.5h0M212.7 194.2h0M213.1 195.8h0M213.4 198.4h0M213.7 195.2h0M214.1 196.3h0M214.4 194.0h0M214.7 198.0h0M215.0 193.9h0M215.4 198.1h0M215.7 192.3h0M216.0 197.1h0M216.4 199.5h0M216.7 194.9h0M217.0 193.8h0M217.4 195.6h0M217.7 192.9h0M218.0 196.2h0M218.3 199.3h0M218.7 191.4h0M219.0 197.3h0M219.3 197.5h0M219.7 193.1h0M220.0 195.3h0M220.3 192.0h0M220.7 194.9h0M221.0 195.6h0M221.3 198.5h0M221.6 193.8h0M222.0 191.9h0M222.3 191.7h0M222.6 192.4h0M223.0 198.0h0M223.3 198.1h0" fill="none" stroke="#0070C0" stroke-width="4.8" stroke-linecap="round"/>
<path d="M153.0 240.3 L153.3 244.2 L153.7 244.4 L154.0 241.7 L154.3 245.0 L154.7 245.1 L155.0 242.6 L155.3 242.0 L155.6 245.4 L156.0 245.1 L156.3 242.3 L156.6 242.4 L157.0 242.9 L157.3 242.0 L157.6 243.3 L158.0 241.7 L158.3 245.2 L158.6 242.3 L158.9 242.3 L159.3 241.0 L159.6 242.3 L159.9 244.0 L160.3 241.8 L160.6 241.0 L160.9 244.4 L161.3 241.1 L161.6 243.9 L161.9 245.1 L162.2 245.6 L162.6 240.8 L162.9 239.6 L163.2 240.9 L163.6 244.4 L163.7 236.0 L163.9 248.5 L163.9 240.8 L164.2 240.1 L164.6 244.4 L164.9 246.7 L165.2 245.2 L165.5 242.2 L165.9 241.0 L166.2 244.7 L166.5 243.7 L166.9 243.0 L167.2 242.6 L167.5 240.3 L167.9 240.9 L168.2 243.1 L168.5 241.5 L168.8 243.2 L169.2 243.6 L169.5 239.9 L169.8 242.5 L170.2 240.8 L170.5 242.2 L170.8 240.1 L171.2 240.5 L171.5 239.5 L171.8 242.9 L172.1 241.9 L172.5 238.6 L172.8 239.2 L173.1 240.0 L173.5 239.6 L173.8 239.0 L174.0 244.5 L174.1 241.5 L174.5 240.1 L174.8 239.1 L175.1 241.9 L175.4 239.3 L175.8 241.9 L176.1 238.0 L176.4 238.3 L176.8 238.7 L177.1 241.2 L177.4 240.9 L177.8 241.0 L178.1 238.7 L178.4 241.8 L178.7 241.6 L179.1 240.6 L179.4 239.9 L179.7 237.0 L180.1 238.7 L180.4 241.0 L180.7 240.2 L181.1 239.8 L181.4 237.7 L181.7 241.1 L182.0 239.1 L182.4 237.0 L182.7 238.9 L182.9 242.5 L183.0 237.8 L183.4 240.5 L183.7 238.7 L184.0 239.8 L184.4 239.5 L184.7 242.2 L185.0 240.6 L185.3 241.8 L185.7 241.5 L186.0 241.0 L186.3 240.0 L186.7 241.7 L187.0 239.0 L187.3 238.5 L187.7 238.7 L188.0 240.7 L188.3 237.8 L188.6 239.5 L189.0 238.0 L189.3 237.2 L189.6 240.8 L190.0 240.6 L190.3 239.8 L190.6 239.3 L191.0 237.8 L191.3 236.9 L191.6 239.9 L191.9 241.2 L192.3 237.9 L192.6 236.1 L192.9 240.4 L193.3 238.1 L193.6 239.7 L193.9 241.1 L194.3 240.4 L194.6 240.3 L194.9 237.6 L195.2 238.3 L195.6 239.4 L195.9 240.8 L196.2 237.0 L196.6 239.8 L196.9 240.2 L197.2 241.3 L197.6 239.2 L197.9 238.2 L198.2 237.2 L198.5 237.5 L198.9 241.4 L199.2 236.9 L199.5 237.6 L199.9 236.7 L200.2 240.8 L200.5 238.7 L200.9 239.8 L201.2 238.6 L201.5 238.7 L201.8 240.5 L202.2 237.3 L202.5 238.5 L202.8 238.0 L203.2 236.6 L203.5 238.3 L204.0 242.5 L203.8 240.2 L204.2 240.6 L204.5 239.8 L204.8 239.1 L205.1 237.3 L205.5 240.5 L205.8 239.1 L206.1 237.8 L206.5 236.5 L206.8 239.9 L207.1 237.2 L207.5 238.8 L207.8 239.3 L208.1 240.1 L208.4 238.1 L208.8 241.9 L209.1 238.2 L209.4 238.8 L209.8 240.1 L210.0 246.0 L210.0 249.0 L210.1 238.6 L210.4 238.0 L210.8 240.2 L211.1 239.2 L211.4 239.3 L211.7 239.7 L212.1 240.6 L212.4 241.7 L212.7 237.4 L213.1 238.8 L213.4 241.5 L213.7 240.7 L214.1 240.8 L214.4 238.2 L214.7 237.3 L215.0 238.3 L215.4 240.8 L215.7 241.8 L216.0 241.8 L216.4 242.0 L216.7 238.5 L217.0 239.3 L217.4 240.9 L217.7 238.2 L218.0 241.0 L218.3 240.8 L218.7 240.1 L219.0 239.7 L219.3 237.5 L219.7 240.0 L220.0 237.6 L220.3 240.6 L220.7 235.8 L221.0 237.0 L221.3 237.4 L221.6 237.9 L222.0 238.4 L222.3 240.8 L222.6 239.9 L223.0 242.7 L223.3 238.4" fill="none" stroke="#0070C0" stroke-width="2.8" stroke-linejoin="round" stroke-linecap="round"/>
<path d="M153.0 240.3h0M153.3 244.2h0M153.7 244.4h0M154.0 241.7h0M154.3 245.0h0M154.7 245.1h0M155.0 242.6h0M155.3 242.0h0M155.6 245.4h0M156.0 245.1h0M156.3 242.3h0M156.6 242.4h0M157.0 242.9h0M157.3 242.0h0M157.6 243.3h0M158.0 241.7h0M158.3 245.2h0M158.6 242.3h0M158.9 242.3h0M159.3 241.0h0M159.6 242.3h0M159.9 244.0h0M160.3 241.8h0M160.6 241.0h0M160.9 244.4h0M161.3 241.1h0M161.6 243.9h0M161.9 245.1h0M162.2 245.6h0M162.6 240.8h0M162.9 239.6h0M163.2 240.9h0M163.6 244.4h0M163.7 236.0h0M163.9 248.5h0M163.9 240.8h0M164.2 240.1h0M164.6 244.4h0M164.9 246.7h0M165.2 245.2h0M165.5 242.2h0M165.9 241.0h0M166.2 244.7h0M166.5 243.7h0M166.9 243.0h0M167.2 242.6h0M167.5 240.3h0M167.9 240.9h0M168.2 243.1h0M168.5 241.5h0M168.8 243.2h0M169.2 243.6h0M169.5 239.9h0M169.8 242.5h0M170.2 240.8h0M170.5 242.2h0M170.8 240.1h0M171.2 240.5h0M171.5 239.5h0M171.8 242.9h0M172.1 241.9h0M172.5 238.6h0M172.8 239.2h0M173.1 240.0h0M173.5 239.6h0M173.8 239.0h0M174.0 244.5h0M174.1 241.5h0M174.5 240.1h0M174.8 239.1h0M175.1 241.9h0M175.4 239.3h0M175.8 241.9h0M176.1 238.0h0M176.4 238.3h0M176.8 238.7h0M177.1 241.2h0M177.4 240.9h0M177.8 241.0h0M178.1 238.7h0M178.4 241.8h0M178.7 241.6h0M179.1 240.6h0M179.4 239.9h0M179.7 237.0h0M180.1 238.7h0M180.4 241.0h0M180.7 240.2h0M181.1 239.8h0M181.4 237.7h0M181.7 241.1h0M182.0 239.1h0M182.4 237.0h0M182.7 238.9h0M182.9 242.5h0M183.0 237.8h0M183.4 240.5h0M183.7 238.7h0M184.0 239.8h0M184.4 239.5h0M184.7 242.2h0M185.0 240.6h0M185.3 241.8h0M185.7 241.5h0M186.0 241.0h0M186.3 240.0h0M186.7 241.7h0M187.0 239.0h0M187.3 238.5h0M187.7 238.7h0M188.0 240.7h0M188.3 237.8h0M188.6 239.5h0M189.0 238.0h0M189.3 237.2h0M189.6 240.8h0M190.0 240.6h0M190.3 239.8h0M190.6 239.3h0M191.0 237.8h0M191.3 236.9h0M191.6 239.9h0M191.9 241.2h0M192.3 237.9h0M192.6 236.1h0M192.9 240.4h0M193.3 238.1h0M193.6 239.7h0M193.9 241.1h0M194.3 240.4h0M194.6 240.3h0M194.9 237.6h0M195.2 238.3h0M195.6 239.4h0M195.9 240.8h0M196.2 237.0h0M196.6 239.8h0M196.9 240.2h0M197.2 241.3h0M197.6 239.2h0M197.9 238.2h0M198.2 237.2h0M198.5 237.5h0M198.9 241.4h0M199.2 236.9h0M199.5 237.6h0M199.9 236.7h0M200.2 240.8h0M200.5 238.7h0M200.9 239.8h0M201.2 238.6h0M201.5 238.7h0M201.8 240.5h0M202.2 237.3h0M202.5 238.5h0M202.8 238.0h0M203.2 236.6h0M203.5 238.3h0M204.0 242.5h0M203.8 240.2h0M204.2 240.6h0M204.5 239.8h0M204.8 239.1h0M205.1 237.3h0M205.5 240.5h0M205.8 239.1h0M206.1 237.8h0M206.5 236.5h0M206.8 239.9h0M207.1 237.2h0M207.5 238.8h0M207.8 239.3h0M208.1 240.1h0M208.4 238.1h0M208.8 241.9h0M209.1 238.2h0M209.4 238.8h0M209.8 240.1h0M210.0 246.0h0M210.0 249.0h0M210.1 238.6h0M210.4 238.0h0M210.8 240.2h0M211.1 239.2h0M211.4 239.3h0M211.7 239.7h0M212.1 240.6h0M212.4 241.7h0M212.7 237.4h0M213.1 238.8h0M213.4 241.5h0M213.7 240.7h0M214.1 240.8h0M214.4 238.2h0M214.7 237.3h0M215.0 238.3h0M215.4 240.8h0M215.7 241.8h0M216.0 241.8h0M216.4 242.0h0M216.7 238.5h0M217.0 239.3h0M217.4 240.9h0M217.7 238.2h0M218.0 241.0h0M218.3 240.8h0M218.7 240.1h0M219.0 239.7h0M219.3 237.5h0M219.7 240.0h0M220.0 237.6h0M220.3 240.6h0M220.7 235.8h0M221.0 237.0h0M221.3 237.4h0M221.6 237.9h0M222.0 238.4h0M222.3 240.8h0M222.6 239.9h0M223.0 242.7h0M223.3 238.4h0" fill="none" stroke="#0070C0" stroke-width="4.8" stroke-linecap="round"/>
<path d="M223.6 191.0 L223.9 193.2 L224.3 192.5 L224.6 189.6 L224.9 191.3 L225.3 193.2 L225.1 200.0 L225.1 206.0 L225.4 209.2 L225.2 202.0 L225.6 191.8 L225.9 191.8 L226.2 193.9 L226.6 197.4 L226.8 201.0 L226.9 195.8 L227.2 195.8 L227.6 194.6 L227.9 191.8 L228.2 196.2 L228.6 194.6 L228.9 195.1 L229.2 193.1 L229.5 191.8 L229.9 192.0 L230.2 191.4 L230.5 196.2 L230.9 191.4 L230.9 199.0 L231.2 191.1 L231.5 188.4 L231.9 191.7 L232.2 192.3 L232.5 189.0 L232.8 189.6 L233.2 192.4 L233.5 200.0 L233.2 208.0 L233.5 214.8 L233.3 205.0 L233.5 187.1 L233.8 190.4 L234.2 188.2 L234.5 188.4 L234.8 185.3 L235.2 191.3 L235.5 184.9 L235.8 185.4 L236.1 189.4 L236.5 187.0 L236.8 188.5 L237.1 188.7 L237.5 189.3 L237.8 188.2 L238.1 189.8 L238.5 186.1 L238.8 184.9 L239.1 190.0 L239.4 190.3 L239.8 185.6 L240.1 192.0 L240.1 186.2 L240.4 185.7 L240.8 186.3 L241.1 188.0 L241.4 187.2 L241.8 185.5 L241.8 181.0 L242.2 177.2 L242.0 181.0 L242.1 191.2 L242.4 188.5 L242.7 186.4 L243.1 185.1 L243.4 189.7 L243.7 190.0 L244.1 187.7 L244.4 187.7 L244.7 187.9 L245.1 188.8 L245.4 188.4 L245.7 188.7 L246.0 188.5 L246.4 186.0 L246.7 186.4 L247.0 181.3 L247.4 185.7 L247.7 187.9 L248.2 179.0 L248.0 183.6 L248.4 180.3 L248.7 182.6 L249.0 185.2 L249.3 182.5 L249.7 183.7 L250.0 182.1 L250.3 187.5 L250.7 180.5 L251.0 182.0 L251.3 183.8 L251.7 182.5 L252.0 183.3 L252.3 186.6 L252.6 185.2 L253.0 184.5 L253.2 190.0 L253.3 180.0 L253.6 182.6 L254.0 186.6 L254.3 181.0 L254.6 181.3 L255.0 181.0 L255.3 184.9 L255.6 181.3 L255.9 180.6 L256.3 179.9 L256.6 185.2 L256.9 184.1 L257.3 180.4 L257.6 181.8 L257.9 179.2 L258.3 182.4 L258.6 182.1 L258.9 179.2 L259.2 180.3 L259.6 184.1 L259.9 184.1 L260.2 178.9 L260.6 178.8 L260.9 178.2 L261.2 179.6 L261.6 179.5 L261.9 184.1 L262.2 181.8 L262.4 175.0 L262.5 168.0 L262.5 163.0 L262.1 159.8 L262.2 164.0 L262.4 172.0 L262.5 184.7 L262.9 183.5 L263.2 183.1 L263.1 170.0 L263.5 176.0 L263.5 182.3 L263.9 180.8 L264.2 180.9 L264.5 181.1 L264.9 180.7 L265.2 183.1 L265.5 181.9 L265.8 185.8 L266.2 180.5 L266.5 185.2 L266.8 180.6 L267.2 180.5 L267.5 178.8 L267.8 181.5 L268.2 180.5 L268.5 183.7 L268.8 182.8 L269.1 184.0 L269.5 185.6 L269.8 182.3 L270.1 182.7 L270.5 182.6 L270.8 182.9 L271.1 189.7 L271.5 184.5 L271.8 181.9 L271.9 178.0 L271.9 175.2 L272.1 181.5 L272.4 186.1 L272.8 186.4 L273.1 184.8 L273.4 184.4 L273.8 181.9 L274.1 179.6 L274.4 185.5 L274.8 183.6 L275.1 181.0 L275.4 184.6 L275.7 184.3 L276.1 183.0 L276.4 183.9 L276.7 183.4 L277.1 180.4 L277.4 180.5 L277.7 181.7 L278.1 181.9 L278.4 179.6 L278.7 184.3 L279.0 181.4 L279.4 183.4 L279.7 178.9 L280.0 180.9 L280.4 183.5 L280.7 183.9 L281.0 180.6 L281.4 183.7 L281.7 179.2 L282.0 179.0 L282.3 183.9 L282.7 181.6 L283.0 181.2 L283.3 183.3 L283.7 181.8 L284.0 183.7 L284.3 183.2 L284.5 190.0 L284.6 180.2 L285.0 180.8 L285.3 178.6 L285.6 182.3 L286.0 179.6 L286.3 180.2 L286.6 180.0 L287.0 178.9 L287.3 184.0 L287.6 181.1 L287.9 182.5 L288.3 178.8 L288.6 181.1 L288.9 180.8 L289.3 183.4 L289.6 181.7 L289.9 183.4 L290.3 181.1 L290.6 184.8 L290.9 184.6 L291.2 180.8 L291.6 182.9 L291.9 183.6 L292.2 186.4 L292.6 184.1 L292.9 183.2 L293.2 182.8 L293.6 185.7 L293.9 183.0 L294.2 185.1 L294.5 184.5 L294.9 179.9 L295.2 183.1" fill="none" stroke="#FF0000" stroke-width="2.8" stroke-linejoin="round" stroke-linecap="round"/>
<path d="M223.6 191.0h0M223.9 193.2h0M224.3 192.5h0M224.6 189.6h0M224.9 191.3h0M225.3 193.2h0M225.1 200.0h0M225.1 206.0h0M225.4 209.2h0M225.2 202.0h0M225.6 191.8h0M225.9 191.8h0M226.2 193.9h0M226.6 197.4h0M226.8 201.0h0M226.9 195.8h0M227.2 195.8h0M227.6 194.6h0M227.9 191.8h0M228.2 196.2h0M228.6 194.6h0M228.9 195.1h0M229.2 193.1h0M229.5 191.8h0M229.9 192.0h0M230.2 191.4h0M230.5 196.2h0M230.9 191.4h0M230.9 199.0h0M231.2 191.1h0M231.5 188.4h0M231.9 191.7h0M232.2 192.3h0M232.5 189.0h0M232.8 189.6h0M233.2 192.4h0M233.5 200.0h0M233.2 208.0h0M233.5 214.8h0M233.3 205.0h0M233.5 187.1h0M233.8 190.4h0M234.2 188.2h0M234.5 188.4h0M234.8 185.3h0M235.2 191.3h0M235.5 184.9h0M235.8 185.4h0M236.1 189.4h0M236.5 187.0h0M236.8 188.5h0M237.1 188.7h0M237.5 189.3h0M237.8 188.2h0M238.1 189.8h0M238.5 186.1h0M238.8 184.9h0M239.1 190.0h0M239.4 190.3h0M239.8 185.6h0M240.1 192.0h0M240.1 186.2h0M240.4 185.7h0M240.8 186.3h0M241.1 188.0h0M241.4 187.2h0M241.8 185.5h0M241.8 181.0h0M242.2 177.2h0M242.0 181.0h0M242.1 191.2h0M242.4 188.5h0M242.7 186.4h0M243.1 185.1h0M243.4 189.7h0M243.7 190.0h0M244.1 187.7h0M244.4 187.7h0M244.7 187.9h0M245.1 188.8h0M245.4 188.4h0M245.7 188.7h0M246.0 188.5h0M246.4 186.0h0M246.7 186.4h0M247.0 181.3h0M247.4 185.7h0M247.7 187.9h0M248.2 179.0h0M248.0 183.6h0M248.4 180.3h0M248.7 182.6h0M249.0 185.2h0M249.3 182.5h0M249.7 183.7h0M250.0 182.1h0M250.3 187.5h0M250.7 180.5h0M251.0 182.0h0M251.3 183.8h0M251.7 182.5h0M252.0 183.3h0M252.3 186.6h0M252.6 185.2h0M253.0 184.5h0M253.2 190.0h0M253.3 180.0h0M253.6 182.6h0M254.0 186.6h0M254.3 181.0h0M254.6 181.3h0M255.0 181.0h0M255.3 184.9h0M255.6 181.3h0M255.9 180.6h0M256.3 179.9h0M256.6 185.2h0M256.9 184.1h0M257.3 180.4h0M257.6 181.8h0M257.9 179.2h0M258.3 182.4h0M258.6 182.1h0M258.9 179.2h0M259.2 180.3h0M259.6 184.1h0M259.9 184.1h0M260.2 178.9h0M260.6 178.8h0M260.9 178.2h0M261.2 179.6h0M261.6 179.5h0M261.9 184.1h0M262.2 181.8h0M262.4 175.0h0M262.5 168.0h0M262.5 163.0h0M262.1 159.8h0M262.2 164.0h0M262.4 172.0h0M262.5 184.7h0M262.9 183.5h0M263.2 183.1h0M263.1 170.0h0M263.5 176.0h0M263.5 182.3h0M263.9 180.8h0M264.2 180.9h0M264.5 181.1h0M264.9 180.7h0M265.2 183.1h0M265.5 181.9h0M265.8 185.8h0M266.2 180.5h0M266.5 185.2h0M266.8 180.6h0M267.2 180.5h0M267.5 178.8h0M267.8 181.5h0M268.2 180.5h0M268.5 183.7h0M268.8 182.8h0M269.1 184.0h0M269.5 185.6h0M269.8 182.3h0M270.1 182.7h0M270.5 182.6h0M270.8 182.9h0M271.1 189.7h0M271.5 184.5h0M271.8 181.9h0M271.9 178.0h0M271.9 175.2h0M272.1 181.5h0M272.4 186.1h0M272.8 186.4h0M273.1 184.8h0M273.4 184.4h0M273.8 181.9h0M274.1 179.6h0M274.4 185.5h0M274.8 183.6h0M275.1 181.0h0M275.4 184.6h0M275.7 184.3h0M276.1 183.0h0M276.4 183.9h0M276.7 183.4h0M277.1 180.4h0M277.4 180.5h0M277.7 181.7h0M278.1 181.9h0M278.4 179.6h0M278.7 184.3h0M279.0 181.4h0M279.4 183.4h0M279.7 178.9h0M280.0 180.9h0M280.4 183.5h0M280.7 183.9h0M281.0 180.6h0M281.4 183.7h0M281.7 179.2h0M282.0 179.0h0M282.3 183.9h0M282.7 181.6h0M283.0 181.2h0M283.3 183.3h0M283.7 181.8h0M284.0 183.7h0M284.3 183.2h0M284.5 190.0h0M284.6 180.2h0M285.0 180.8h0M285.3 178.6h0M285.6 182.3h0M286.0 179.6h0M286.3 180.2h0M286.6 180.0h0M287.0 178.9h0M287.3 184.0h0M287.6 181.1h0M287.9 182.5h0M288.3 178.8h0M288.6 181.1h0M288.9 180.8h0M289.3 183.4h0M289.6 181.7h0M289.9 183.4h0M290.3 181.1h0M290.6 184.8h0M290.9 184.6h0M291.2 180.8h0M291.6 182.9h0M291.9 183.6h0M292.2 186.4h0M292.6 184.1h0M292.9 183.2h0M293.2 182.8h0M293.6 185.7h0M293.9 183.0h0M294.2 185.1h0M294.5 184.5h0M294.9 179.9h0M295.2 183.1h0" fill="none" stroke="#FF0000" stroke-width="4.8" stroke-linecap="round"/>
<path d="M223.6 238.1 L223.9 239.5 L224.3 241.3 L224.6 238.2 L224.9 238.1 L225.3 239.1 L225.6 238.3 L225.9 237.7 L226.2 242.5 L226.2 239.7 L226.6 236.9 L226.9 238.1 L227.2 237.8 L227.6 238.2 L227.9 239.0 L228.2 239.4 L228.6 236.0 L228.9 237.8 L229.2 238.0 L229.5 236.8 L229.9 236.8 L230.2 238.8 L230.5 237.4 L230.9 237.4 L231.2 235.8 L231.5 238.1 L231.9 238.9 L232.2 237.8 L232.5 239.1 L232.8 238.5 L233.2 237.9 L233.2 244.8 L233.5 236.0 L233.8 235.7 L234.2 235.9 L234.5 235.4 L234.8 238.7 L235.2 237.5 L235.5 238.4 L235.8 235.4 L236.1 237.6 L236.5 238.2 L236.8 235.9 L237.1 236.3 L237.5 235.8 L237.8 236.6 L238.1 236.0 L238.5 239.4 L238.8 235.7 L239.1 238.2 L239.4 237.8 L239.8 237.4 L240.1 237.2 L240.4 235.9 L240.8 235.8 L241.1 239.1 L241.4 237.1 L241.4 241.5 L241.8 237.8 L242.1 238.3 L242.4 236.5 L242.7 236.8 L243.1 234.7 L243.4 235.4 L243.7 237.6 L244.1 237.9 L244.4 236.6 L244.7 235.6 L245.1 236.8 L245.4 235.6 L245.7 235.2 L245.8 233.5 L246.0 237.3 L246.4 234.5 L246.7 234.6 L247.0 237.3 L247.4 236.0 L247.7 236.2 L248.0 236.7 L248.4 236.5 L248.7 235.8 L249.0 235.1 L249.3 238.3 L249.7 238.0 L250.0 236.8 L250.3 235.4 L250.7 235.6 L251.0 237.3 L251.3 237.1 L251.7 237.4 L252.0 236.7 L252.3 236.8 L252.6 235.7 L253.0 238.5 L253.3 239.6 L253.6 238.7 L254.0 238.1 L254.3 237.7 L254.6 237.9 L255.0 236.0 L255.3 236.4 L255.6 236.0 L255.9 235.2 L256.3 235.7 L256.6 237.8 L256.9 234.9 L257.3 236.9 L257.6 234.6 L257.9 237.0 L258.3 235.5 L258.6 235.9 L258.9 234.1 L259.2 235.6 L259.6 234.3 L259.9 236.8 L260.2 234.6 L260.6 234.7 L260.9 235.1 L261.2 238.0 L261.6 237.5 L261.9 236.5 L262.2 238.2 L262.5 237.2 L262.8 232.0 L262.9 230.6 L262.8 236.0 L262.5 240.3 L262.9 237.6 L263.2 235.6 L263.5 237.5 L263.9 235.5 L264.2 238.5 L264.5 237.8 L264.9 238.0 L265.2 236.6 L265.5 237.9 L265.8 236.1 L266.2 237.0 L266.5 235.4 L266.8 238.0 L267.2 238.1 L267.5 235.7 L267.8 235.9 L268.2 238.4 L268.5 237.6 L268.8 237.8 L269.1 237.4 L269.5 237.9 L269.8 235.1 L270.1 237.8 L270.5 236.9 L270.8 238.3 L271.1 236.4 L271.5 235.0 L271.8 236.1 L272.1 236.2 L272.4 235.2 L272.8 237.5 L273.1 235.4 L273.4 235.2 L273.8 235.7 L274.1 237.0 L274.4 236.5 L274.8 236.9 L275.1 234.8 L275.4 235.1 L275.7 237.1 L276.1 237.1 L276.4 235.7 L276.7 235.8 L277.1 234.8 L277.4 234.8 L277.7 234.3 L278.1 237.9 L278.4 237.6 L278.7 236.0 L279.0 236.8 L279.4 236.7 L279.7 238.2 L280.0 237.2 L280.4 237.0 L280.7 238.2 L281.0 237.1 L281.4 235.9 L281.7 237.0 L282.0 236.3 L282.3 238.0 L282.7 237.4 L283.0 236.3 L283.3 237.0 L283.7 236.9 L284.0 234.4 L284.3 234.8 L284.6 237.5 L285.0 236.5 L285.3 234.5 L285.6 237.1 L286.0 235.4 L286.3 235.5 L286.6 236.0 L287.0 236.8 L287.3 236.9 L287.6 238.0 L287.9 237.0 L288.3 235.1 L288.6 237.6 L288.9 235.9 L289.3 236.6 L289.6 235.4 L289.9 235.5 L290.3 235.1 L290.6 236.4 L290.9 238.5 L291.2 236.2 L291.6 235.8 L291.9 236.7 L292.2 236.0 L292.6 236.4 L292.9 236.0 L293.2 238.2 L293.6 237.9 L293.9 237.7 L294.2 235.4 L294.5 236.5 L294.9 237.2 L295.2 235.7" fill="none" stroke="#FF0000" stroke-width="2.8" stroke-linejoin="round" stroke-linecap="round"/>
<path d="M223.6 238.1h0M223.9 239.5h0M224.3 241.3h0M224.6 238.2h0M224.9 238.1h0M225.3 239.1h0M225.6 238.3h0M225.9 237.7h0M226.2 242.5h0M226.2 239.7h0M226.6 236.9h0M226.9 238.1h0M227.2 237.8h0M227.6 238.2h0M227.9 239.0h0M228.2 239.4h0M228.6 236.0h0M228.9 237.8h0M229.2 238.0h0M229.5 236.8h0M229.9 236.8h0M230.2 238.8h0M230.5 237.4h0M230.9 237.4h0M231.2 235.8h0M231.5 238.1h0M231.9 238.9h0M232.2 237.8h0M232.5 239.1h0M232.8 238.5h0M233.2 237.9h0M233.2 244.8h0M233.5 236.0h0M233.8 235.7h0M234.2 235.9h0M234.5 235.4h0M234.8 238.7h0M235.2 237.5h0M235.5 238.4h0M235.8 235.4h0M236.1 237.6h0M236.5 238.2h0M236.8 235.9h0M237.1 236.3h0M237.5 235.8h0M237.8 236.6h0M238.1 236.0h0M238.5 239.4h0M238.8 235.7h0M239.1 238.2h0M239.4 237.8h0M239.8 237.4h0M240.1 237.2h0M240.4 235.9h0M240.8 235.8h0M241.1 239.1h0M241.4 237.1h0M241.4 241.5h0M241.8 237.8h0M242.1 238.3h0M242.4 236.5h0M242.7 236.8h0M243.1 234.7h0M243.4 235.4h0M243.7 237.6h0M244.1 237.9h0M244.4 236.6h0M244.7 235.6h0M245.1 236.8h0M245.4 235.6h0M245.7 235.2h0M245.8 233.5h0M246.0 237.3h0M246.4 234.5h0M246.7 234.6h0M247.0 237.3h0M247.4 236.0h0M247.7 236.2h0M248.0 236.7h0M248.4 236.5h0M248.7 235.8h0M249.0 235.1h0M249.3 238.3h0M249.7 238.0h0M250.0 236.8h0M250.3 235.4h0M250.7 235.6h0M251.0 237.3h0M251.3 237.1h0M251.7 237.4h0M252.0 236.7h0M252.3 236.8h0M252.6 235.7h0M253.0 238.5h0M253.3 239.6h0M253.6 238.7h0M254.0 238.1h0M254.3 237.7h0M254.6 237.9h0M255.0 236.0h0M255.3 236.4h0M255.6 236.0h0M255.9 235.2h0M256.3 235.7h0M256.6 237.8h0M256.9 234.9h0M257.3 236.9h0M257.6 234.6h0M257.9 237.0h0M258.3 235.5h0M258.6 235.9h0M258.9 234.1h0M259.2 235.6h0M259.6 234.3h0M259.9 236.8h0M260.2 234.6h0M260.6 234.7h0M260.9 235.1h0M261.2 238.0h0M261.6 237.5h0M261.9 236.5h0M262.2 238.2h0M262.5 237.2h0M262.8 232.0h0M262.9 230.6h0M262.8 236.0h0M262.5 240.3h0M262.9 237.6h0M263.2 235.6h0M263.5 237.5h0M263.9 235.5h0M264.2 238.5h0M264.5 237.8h0M264.9 238.0h0M265.2 236.6h0M265.5 237.9h0M265.8 236.1h0M266.2 237.0h0M266.5 235.4h0M266.8 238.0h0M267.2 238.1h0M267.5 235.7h0M267.8 235.9h0M268.2 238.4h0M268.5 237.6h0M268.8 237.8h0M269.1 237.4h0M269.5 237.9h0M269.8 235.1h0M270.1 237.8h0M270.5 236.9h0M270.8 238.3h0M271.1 236.4h0M271.5 235.0h0M271.8 236.1h0M272.1 236.2h0M272.4 235.2h0M272.8 237.5h0M273.1 235.4h0M273.4 235.2h0M273.8 235.7h0M274.1 237.0h0M274.4 236.5h0M274.8 236.9h0M275.1 234.8h0M275.4 235.1h0M275.7 237.1h0M276.1 237.1h0M276.4 235.7h0M276.7 235.8h0M277.1 234.8h0M277.4 234.8h0M277.7 234.3h0M278.1 237.9h0M278.4 237.6h0M278.7 236.0h0M279.0 236.8h0M279.4 236.7h0M279.7 238.2h0M280.0 237.2h0M280.4 237.0h0M280.7 238.2h0M281.0 237.1h0M281.4 235.9h0M281.7 237.0h0M282.0 236.3h0M282.3 238.0h0M282.7 237.4h0M283.0 236.3h0M283.3 237.0h0M283.7 236.9h0M284.0 234.4h0M284.3 234.8h0M284.6 237.5h0M285.0 236.5h0M285.3 234.5h0M285.6 237.1h0M286.0 235.4h0M286.3 235.5h0M286.6 236.0h0M287.0 236.8h0M287.3 236.9h0M287.6 238.0h0M287.9 237.0h0M288.3 235.1h0M288.6 237.6h0M288.9 235.9h0M289.3 236.6h0M289.6 235.4h0M289.9 235.5h0M290.3 235.1h0M290.6 236.4h0M290.9 238.5h0M291.2 236.2h0M291.6 235.8h0M291.9 236.7h0M292.2 236.0h0M292.6 236.4h0M292.9 236.0h0M293.2 238.2h0M293.6 237.9h0M293.9 237.7h0M294.2 235.4h0M294.5 236.5h0M294.9 237.2h0M295.2 235.7h0" fill="none" stroke="#FF0000" stroke-width="4.8" stroke-linecap="round"/>
<path d="M295.3 183.2 L295.6 183.3 L296.0 182.1 L296.3 181.8 L296.6 181.3 L296.9 183.0 L297.3 182.0 L297.6 181.2 L297.9 182.5 L298.3 182.5 L298.6 182.8 L298.9 183.2 L299.3 181.6 L299.6 182.8 L299.9 181.2 L300.2 182.1 L300.6 182.4 L300.9 181.0 L301.2 180.8 L301.6 181.9 L301.9 182.3 L302.2 181.5 L302.6 181.2 L302.9 182.5 L303.2 180.8 L303.5 182.4 L303.9 182.8 L304.2 182.4 L304.5 182.2 L304.9 180.9 L305.2 182.5 L305.5 181.4 L305.9 182.3 L306.2 181.5 L306.4 180.0 L306.6 170.0 L306.4 161.0 L306.8 155.0 L307.3 150.0 L307.8 146.0 L308.3 142.0 L309.0 138.0 L309.6 135.0 L310.0 133.8 L311.0 137.0 L311.5 136.6 L311.8 144.1 L312.2 143.8 L312.5 144.0 L312.8 138.9 L313.1 138.6 L313.5 141.0 L313.8 137.4 L314.1 137.9 L314.5 135.8 L314.8 138.9 L315.1 135.8 L315.5 135.7 L315.8 139.3 L316.1 143.5 L316.4 143.4 L316.8 141.5 L317.1 135.3 L317.4 135.2 L317.8 142.4 L318.1 138.3 L318.4 137.6 L318.8 145.9 L319.1 136.7 L319.4 139.9 L319.7 144.3 L320.1 137.4 L320.1 148.5 L320.4 144.2 L320.7 146.4 L321.1 144.6 L321.4 145.0 L321.7 138.2 L322.1 142.3 L322.4 138.2 L322.7 146.5 L323.0 146.9 L323.4 142.0 L323.7 141.5 L324.0 145.9 L324.4 137.7 L324.7 143.3 L325.0 137.5 L325.4 145.1 L325.7 137.7 L326.0 142.4 L326.3 140.2 L326.7 145.7 L327.0 143.2 L327.3 139.3 L327.7 140.7 L328.0 142.7 L328.3 138.7 L328.7 142.3 L329.0 143.3 L329.3 136.8 L329.6 136.4 L330.0 139.5 L330.3 142.4 L330.7 147.0 L330.7 150.0 L330.6 139.8 L331.0 144.0 L331.3 135.6 L331.6 144.7 L332.0 138.9 L332.3 143.2 L332.6 142.5 L332.9 136.3 L333.3 143.5 L333.6 136.3 L333.9 145.1 L334.3 142.7 L334.6 142.6 L334.9 139.0 L335.3 136.6 L335.6 137.5 L335.9 143.4 L336.2 148.0 L335.8 151.2 L336.0 146.0 L336.2 137.3 L336.6 144.7 L336.9 135.7 L337.2 140.8 L337.6 139.9 L337.9 140.5 L338.2 135.1 L338.6 139.4 L338.9 137.1 L339.2 142.7 L339.5 141.8 L339.9 138.3 L340.2 140.3 L340.5 138.5 L340.9 144.2 L341.2 138.5 L341.5 142.6 L341.9 144.2 L341.9 147.0 L342.2 139.2 L342.5 138.1 L342.8 146.5 L343.2 137.1 L343.5 138.2 L343.8 142.9 L344.2 141.4 L344.5 142.7 L344.8 145.5 L345.2 144.1 L345.5 144.2 L345.8 136.0 L346.1 143.7 L346.5 143.8 L346.8 144.2 L347.1 141.8 L347.5 137.8 L347.8 138.0 L348.1 139.1 L348.5 141.0 L348.8 142.0 L349.1 144.1 L349.4 136.8 L349.8 137.4 L350.1 135.9 L350.4 142.1 L350.6 130.0 L350.6 122.0 L350.7 117.9 L350.6 125.0 L350.5 140.0 L350.3 151.2 L350.7 145.0 L350.8 135.2 L351.1 135.1 L351.4 141.0 L351.8 135.8 L352.1 135.6 L352.4 134.4 L352.7 137.8 L353.1 131.5 L353.4 134.1 L353.7 131.4 L354.1 139.7 L354.4 134.0 L354.7 140.0 L355.1 140.8 L355.4 135.3 L355.7 132.8 L355.9 128.5 L356.0 135.3 L356.4 139.5 L356.7 139.4 L357.0 139.5 L357.4 132.2 L357.7 131.3 L358.0 132.4 L358.4 136.1 L358.7 138.0 L359.0 138.8 L359.3 131.2 L359.7 134.7 L360.0 150.0 L360.0 138.3 L360.3 140.6 L360.7 139.5 L361.0 139.6 L361.3 140.0 L361.7 138.0 L362.0 130.7 L362.2 127.5 L361.8 150.2 L362.3 138.0 L362.6 138.1 L363.0 132.3 L363.3 141.8 L363.6 138.1 L364.0 133.2 L364.3 130.8 L364.6 132.0 L365.0 134.5 L365.3 131.9 L365.6 133.0 L365.9 135.9 L366.3 132.7 L366.6 133.0 L366.9 138.3 L367.3 131.9 L367.6 134.0 L367.9 136.9 L368.3 139.6 L368.6 137.4 L368.9 130.8 L369.2 135.4 L369.6 135.9 L369.9 132.0 L370.2 136.6 L370.6 134.0 L370.9 132.8 L371.2 135.6 L371.6 142.1 L371.9 132.4 L372.1 129.0 L372.2 138.0 L372.5 142.5 L372.9 133.0 L373.2 137.7 L373.5 133.8 L373.9 134.4 L374.2 135.0 L374.5 137.3 L374.9 133.0 L375.2 135.7 L375.5 139.6 L375.8 133.5 L376.2 137.7 L376.5 132.5 L376.8 138.4 L377.2 137.9 L377.5 138.8 L377.8 138.6 L378.2 140.4 L378.5 142.3 L378.8 141.7 L379.1 137.5 L379.5 135.5 L379.8 140.1 L380.1 134.1 L380.5 133.3 L380.8 134.1 L381.1 140.5 L381.5 142.1 L381.8 140.1 L382.1 141.2 L382.4 135.5 L382.8 140.5 L383.1 140.8 L383.4 132.0 L383.8 131.9 L384.1 134.9 L384.4 140.9 L384.8 135.0 L385.1 139.7 L385.4 135.6 L385.7 143.8 L386.1 146.0 L386.1 135.3 L386.4 139.2 L386.7 134.7 L387.1 134.8 L387.4 135.2 L387.7 139.4 L388.1 143.3 L388.4 135.8 L388.7 139.3 L389.0 136.9 L389.4 139.3 L389.7 142.2 L390.0 141.6 L390.4 131.2 L390.7 128.3 L391.0 133.3 L391.4 140.8 L391.7 134.6 L392.0 139.5 L392.3 137.3 L392.7 131.4 L393.0 137.5 L393.3 139.2 L393.7 141.0 L394.0 131.2 L394.3 136.8 L394.7 138.2 L395.0 133.1 L395.3 136.4 L395.6 131.3 L396.0 137.6 L396.3 138.2 L396.6 131.0 L397.0 138.7 L397.3 138.8 L397.8 147.7 L397.6 140.9 L398.0 137.4 L398.3 135.4 L398.6 144.3 L398.9 136.5 L399.3 137.9 L399.6 142.2 L399.9 135.9 L400.3 136.1 L400.6 134.3 L400.9 137.1 L401.3 138.5 L401.6 138.1 L401.9 139.1 L402.2 132.8 L402.6 130.7 L402.9 132.0 L403.2 140.7 L403.6 139.0 L403.9 136.6 L404.2 140.1 L404.6 137.6 L404.9 131.7 L405.2 135.3 L405.5 138.2 L405.9 128.0 L406.2 134.0 L406.5 131.1 L406.9 128.1 L407.2 137.4 L407.5 130.6 L407.9 136.0 L408.2 128.4 L408.5 138.7 L408.8 130.0 L409.2 134.3 L409.5 133.3 L409.8 131.7 L410.2 129.9 L410.5 130.1 L410.8 137.0 L411.2 138.1 L411.5 133.1 L411.8 131.3 L412.1 135.9 L412.5 132.4 L412.8 136.0 L413.1 134.7 L413.5 140.9 L413.8 138.2 L414.1 139.4 L414.5 140.1 L414.8 132.2 L415.1 137.3 L415.4 133.1 L415.8 132.2 L416.1 133.8 L416.4 136.1 L416.8 139.8 L417.1 129.8 L417.1 134.5 L417.4 139.5 L417.8 139.6 L418.1 135.4 L418.4 140.8 L418.7 135.4 L419.1 142.4 L419.4 141.9 L419.7 142.7 L420.1 137.3 L420.4 134.1 L420.7 134.2 L421.1 138.6 L421.4 142.4 L421.7 136.4 L421.8 147.0 L422.0 149.8 L422.0 148.0 L422.0 134.5 L422.4 135.6 L422.7 130.1 L423.0 132.6 L423.4 130.6 L423.7 129.8 L424.0 132.4 L424.4 135.9 L424.7 132.6 L425.0 138.4 L425.3 129.5 L425.7 135.8 L426.0 129.5 L426.3 139.6 L426.7 134.9 L427.0 133.3 L427.3 138.4 L427.7 134.9 L428.0 134.4 L428.4 125.0 L428.0 122.6 L428.1 126.0 L428.3 138.6 L428.6 131.1 L429.0 131.7 L429.3 139.2 L429.6 131.8 L430.0 134.6 L430.3 131.2 L430.6 140.6 L431.0 132.7 L431.3 139.7 L431.5 144.0 L431.6 140.4 L431.9 132.9 L432.3 137.6 L432.6 130.9 L432.9 140.0 L433.3 138.2 L433.6 131.7 L433.9 134.0 L434.3 130.2 L434.6 132.0 L434.9 136.7 L434.8 123.0 L435.0 120.4 L435.2 124.0 L435.2 127.0 L435.2 135.3 L435.6 136.8 L435.9 138.2 L436.2 131.7 L436.6 136.9 L436.9 131.6 L437.2 131.1 L437.6 128.1 L437.9 136.7 L438.1 126.0 L438.2 136.1 L438.5 128.7 L438.9 134.7 L439.2 133.7 L439.5 134.7 L439.9 133.0 L440.2 135.6 L440.5 133.2 L440.9 137.4 L441.2 138.8 L441.5 140.3 L441.8 142.1 L442.1 126.5 L442.2 139.7 L442.5 142.5 L442.8 138.2 L443.2 142.0 L443.5 143.0 L443.8 137.1 L444.2 134.2 L444.5 133.0 L444.8 134.9 L445.1 132.7 L445.5 133.7 L445.8 135.5 L446.1 141.2 L446.5 137.2 L446.8 135.1 L447.1 137.8 L447.5 139.3 L447.8 130.7 L448.1 138.9 L448.4 135.3 L448.8 139.9 L448.9 144.5 L449.1 134.4 L449.4 141.4 L449.8 132.4 L450.1 131.7 L450.4 136.4 L450.8 136.5 L451.1 137.7 L451.4 140.8 L451.7 134.4 L452.1 140.9 L452.4 141.8 L452.7 136.7 L453.1 139.7 L453.4 134.0 L453.7 135.4 L454.1 133.6 L454.4 136.6 L454.7 132.1 L455.0 141.2 L455.4 138.4 L455.7 139.1 L456.0 136.9 L456.4 132.4 L456.4 126.9 L456.7 128.4 L457.0 138.0 L457.4 138.4 L457.7 137.9 L458.0 128.9 L458.3 136.0 L458.7 133.6 L459.0 129.9 L459.3 132.5 L459.7 124.5 L460.0 130.6 L460.3 135.4 L460.7 130.1 L461.0 129.5 L461.3 138.1 L461.6 134.9 L462.0 137.0 L462.3 136.9 L462.6 138.6 L463.0 130.0 L463.3 134.5 L463.6 130.3 L464.0 137.2 L464.3 134.8 L464.6 140.8 L464.9 138.3 L464.8 150.0 L464.8 157.3 L465.0 148.0 L465.3 136.7 L465.6 131.6 L465.9 130.8 L466.3 133.2 L466.6 130.9 L466.9 134.9 L467.3 135.7 L467.6 135.3 L467.6 125.0 L467.4 115.0 L467.4 110.0 L467.9 128.0 L468.2 143.9 L468.6 132.7 L468.5 96.9 L468.7 86.5 L468.5 96.9 L468.4 110.0 L468.8 125.0 L468.6 140.0 L468.4 155.0 L468.8 163.0 L468.7 167.8 L468.5 158.0 L468.7 145.0 L468.9 142.7 L469.2 133.7 L469.3 110.0 L469.4 125.0 L469.6 138.9 L469.9 128.0 L470.2 140.5 L470.6 135.6 L470.9 130.9 L471.2 134.5 L471.5 127.8 L471.9 140.5 L472.2 124.7 L472.5 132.6 L472.9 130.2 L473.2 129.7 L473.7 120.0 L473.5 134.6 L473.9 128.8 L474.2 133.5 L474.5 127.0 L474.8 129.1 L475.2 138.4 L475.1 122.0 L475.1 140.0 L475.6 117.0 L475.2 110.0 L475.5 118.0 L475.2 125.0 L475.5 125.3" fill="none" stroke="#7030A0" stroke-width="2.8" stroke-linejoin="round" stroke-linecap="round"/>
<path d="M295.3 183.2h0M295.6 183.3h0M296.0 182.1h0M296.3 181.8h0M296.6 181.3h0M296.9 183.0h0M297.3 182.0h0M297.6 181.2h0M297.9 182.5h0M298.3 182.5h0M298.6 182.8h0M298.9 183.2h0M299.3 181.6h0M299.6 182.8h0M299.9 181.2h0M300.2 182.1h0M300.6 182.4h0M300.9 181.0h0M301.2 180.8h0M301.6 181.9h0M301.9 182.3h0M302.2 181.5h0M302.6 181.2h0M302.9 182.5h0M303.2 180.8h0M303.5 182.4h0M303.9 182.8h0M304.2 182.4h0M304.5 182.2h0M304.9 180.9h0M305.2 182.5h0M305.5 181.4h0M305.9 182.3h0M306.2 181.5h0M306.4 180.0h0M306.6 170.0h0M306.4 161.0h0M306.8 155.0h0M307.3 150.0h0M307.8 146.0h0M308.3 142.0h0M309.0 138.0h0M309.6 135.0h0M310.0 133.8h0M311.0 137.0h0M311.5 136.6h0M311.8 144.1h0M312.2 143.8h0M312.5 144.0h0M312.8 138.9h0M313.1 138.6h0M313.5 141.0h0M313.8 137.4h0M314.1 137.9h0M314.5 135.8h0M314.8 138.9h0M315.1 135.8h0M315.5 135.7h0M315.8 139.3h0M316.1 143.5h0M316.4 143.4h0M316.8 141.5h0M317.1 135.3h0M317.4 135.2h0M317.8 142.4h0M318.1 138.3h0M318.4 137.6h0M318.8 145.9h0M319.1 136.7h0M319.4 139.9h0M319.7 144.3h0M320.1 137.4h0M320.1 148.5h0M320.4 144.2h0M320.7 146.4h0M321.1 144.6h0M321.4 145.0h0M321.7 138.2h0M322.1 142.3h0M322.4 138.2h0M322.7 146.5h0M323.0 146.9h0M323.4 142.0h0M323.7 141.5h0M324.0 145.9h0M324.4 137.7h0M324.7 143.3h0M325.0 137.5h0M325.4 145.1h0M325.7 137.7h0M326.0 142.4h0M326.3 140.2h0M326.7 145.7h0M327.0 143.2h0M327.3 139.3h0M327.7 140.7h0M328.0 142.7h0M328.3 138.7h0M328.7 142.3h0M329.0 143.3h0M329.3 136.8h0M329.6 136.4h0M330.0 139.5h0M330.3 142.4h0M330.7 147.0h0M330.7 150.0h0M330.6 139.8h0M331.0 144.0h0M331.3 135.6h0M331.6 144.7h0M332.0 138.9h0M332.3 143.2h0M332.6 142.5h0M332.9 136.3h0M333.3 143.5h0M333.6 136.3h0M333.9 145.1h0M334.3 142.7h0M334.6 142.6h0M334.9 139.0h0M335.3 136.6h0M335.6 137.5h0M335.9 143.4h0M336.2 148.0h0M335.8 151.2h0M336.0 146.0h0M336.2 137.3h0M336.6 144.7h0M336.9 135.7h0M337.2 140.8h0M337.6 139.9h0M337.9 140.5h0M338.2 135.1h0M338.6 139.4h0M338.9 137.1h0M339.2 142.7h0M339.5 141.8h0M339.9 138.3h0M340.2 140.3h0M340.5 138.5h0M340.9 144.2h0M341.2 138.5h0M341.5 142.6h0M341.9 144.2h0M341.9 147.0h0M342.2 139.2h0M342.5 138.1h0M342.8 146.5h0M343.2 137.1h0M343.5 138.2h0M343.8 142.9h0M344.2 141.4h0M344.5 142.7h0M344.8 145.5h0M345.2 144.1h0M345.5 144.2h0M345.8 136.0h0M346.1 143.7h0M346.5 143.8h0M346.8 144.2h0M347.1 141.8h0M347.5 137.8h0M347.8 138.0h0M348.1 139.1h0M348.5 141.0h0M348.8 142.0h0M349.1 144.1h0M349.4 136.8h0M349.8 137.4h0M350.1 135.9h0M350.4 142.1h0M350.6 130.0h0M350.6 122.0h0M350.7 117.9h0M350.6 125.0h0M350.5 140.0h0M350.3 151.2h0M350.7 145.0h0M350.8 135.2h0M351.1 135.1h0M351.4 141.0h0M351.8 135.8h0M352.1 135.6h0M352.4 134.4h0M352.7 137.8h0M353.1 131.5h0M353.4 134.1h0M353.7 131.4h0M354.1 139.7h0M354.4 134.0h0M354.7 140.0h0M355.1 140.8h0M355.4 135.3h0M355.7 132.8h0M355.9 128.5h0M356.0 135.3h0M356.4 139.5h0M356.7 139.4h0M357.0 139.5h0M357.4 132.2h0M357.7 131.3h0M358.0 132.4h0M358.4 136.1h0M358.7 138.0h0M359.0 138.8h0M359.3 131.2h0M359.7 134.7h0M360.0 150.0h0M360.0 138.3h0M360.3 140.6h0M360.7 139.5h0M361.0 139.6h0M361.3 140.0h0M361.7 138.0h0M362.0 130.7h0M362.2 127.5h0M361.8 150.2h0M362.3 138.0h0M362.6 138.1h0M363.0 132.3h0M363.3 141.8h0M363.6 138.1h0M364.0 133.2h0M364.3 130.8h0M364.6 132.0h0M365.0 134.5h0M365.3 131.9h0M365.6 133.0h0M365.9 135.9h0M366.3 132.7h0M366.6 133.0h0M366.9 138.3h0M367.3 131.9h0M367.6 134.0h0M367.9 136.9h0M368.3 139.6h0M368.6 137.4h0M368.9 130.8h0M369.2 135.4h0M369.6 135.9h0M369.9 132.0h0M370.2 136.6h0M370.6 134.0h0M370.9 132.8h0M371.2 135.6h0M371.6 142.1h0M371.9 132.4h0M372.1 129.0h0M372.2 138.0h0M372.5 142.5h0M372.9 133.0h0M373.2 137.7h0M373.5 133.8h0M373.9 134.4h0M374.2 135.0h0M374.5 137.3h0M374.9 133.0h0M375.2 135.7h0M375.5 139.6h0M375.8 133.5h0M376.2 137.7h0M376.5 132.5h0M376.8 138.4h0M377.2 137.9h0M377.5 138.8h0M377.8 138.6h0M378.2 140.4h0M378.5 142.3h0M378.8 141.7h0M379.1 137.5h0M379.5 135.5h0M379.8 140.1h0M380.1 134.1h0M380.5 133.3h0M380.8 134.1h0M381.1 140.5h0M381.5 142.1h0M381.8 140.1h0M382.1 141.2h0M382.4 135.5h0M382.8 140.5h0M383.1 140.8h0M383.4 132.0h0M383.8 131.9h0M384.1 134.9h0M384.4 140.9h0M384.8 135.0h0M385.1 139.7h0M385.4 135.6h0M385.7 143.8h0M386.1 146.0h0M386.1 135.3h0M386.4 139.2h0M386.7 134.7h0M387.1 134.8h0M387.4 135.2h0M387.7 139.4h0M388.1 143.3h0M388.4 135.8h0M388.7 139.3h0M389.0 136.9h0M389.4 139.3h0M389.7 142.2h0M390.0 141.6h0M390.4 131.2h0M390.7 128.3h0M391.0 133.3h0M391.4 140.8h0M391.7 134.6h0M392.0 139.5h0M392.3 137.3h0M392.7 131.4h0M393.0 137.5h0M393.3 139.2h0M393.7 141.0h0M394.0 131.2h0M394.3 136.8h0M394.7 138.2h0M395.0 133.1h0M395.3 136.4h0M395.6 131.3h0M396.0 137.6h0M396.3 138.2h0M396.6 131.0h0M397.0 138.7h0M397.3 138.8h0M397.8 147.7h0M397.6 140.9h0M398.0 137.4h0M398.3 135.4h0M398.6 144.3h0M398.9 136.5h0M399.3 137.9h0M399.6 142.2h0M399.9 135.9h0M400.3 136.1h0M400.6 134.3h0M400.9 137.1h0M401.3 138.5h0M401.6 138.1h0M401.9 139.1h0M402.2 132.8h0M402.6 130.7h0M402.9 132.0h0M403.2 140.7h0M403.6 139.0h0M403.9 136.6h0M404.2 140.1h0M404.6 137.6h0M404.9 131.7h0M405.2 135.3h0M405.5 138.2h0M405.9 128.0h0M406.2 134.0h0M406.5 131.1h0M406.9 128.1h0M407.2 137.4h0M407.5 130.6h0M407.9 136.0h0M408.2 128.4h0M408.5 138.7h0M408.8 130.0h0M409.2 134.3h0M409.5 133.3h0M409.8 131.7h0M410.2 129.9h0M410.5 130.1h0M410.8 137.0h0M411.2 138.1h0M411.5 133.1h0M411.8 131.3h0M412.1 135.9h0M412.5 132.4h0M412.8 136.0h0M413.1 134.7h0M413.5 140.9h0M413.8 138.2h0M414.1 139.4h0M414.5 140.1h0M414.8 132.2h0M415.1 137.3h0M415.4 133.1h0M415.8 132.2h0M416.1 133.8h0M416.4 136.1h0M416.8 139.8h0M417.1 129.8h0M417.1 134.5h0M417.4 139.5h0M417.8 139.6h0M418.1 135.4h0M418.4 140.8h0M418.7 135.4h0M419.1 142.4h0M419.4 141.9h0M419.7 142.7h0M420.1 137.3h0M420.4 134.1h0M420.7 134.2h0M421.1 138.6h0M421.4 142.4h0M421.7 136.4h0M421.8 147.0h0M422.0 149.8h0M422.0 148.0h0M422.0 134.5h0M422.4 135.6h0M422.7 130.1h0M423.0 132.6h0M423.4 130.6h0M423.7 129.8h0M424.0 132.4h0M424.4 135.9h0M424.7 132.6h0M425.0 138.4h0M425.3 129.5h0M425.7 135.8h0M426.0 129.5h0M426.3 139.6h0M426.7 134.9h0M427.0 133.3h0M427.3 138.4h0M427.7 134.9h0M428.0 134.4h0M428.4 125.0h0M428.0 122.6h0M428.1 126.0h0M428.3 138.6h0M428.6 131.1h0M429.0 131.7h0M429.3 139.2h0M429.6 131.8h0M430.0 134.6h0M430.3 131.2h0M430.6 140.6h0M431.0 132.7h0M431.3 139.7h0M431.5 144.0h0M431.6 140.4h0M431.9 132.9h0M432.3 137.6h0M432.6 130.9h0M432.9 140.0h0M433.3 138.2h0M433.6 131.7h0M433.9 134.0h0M434.3 130.2h0M434.6 132.0h0M434.9 136.7h0M434.8 123.0h0M435.0 120.4h0M435.2 124.0h0M435.2 127.0h0M435.2 135.3h0M435.6 136.8h0M435.9 138.2h0M436.2 131.7h0M436.6 136.9h0M436.9 131.6h0M437.2 131.1h0M437.6 128.1h0M437.9 136.7h0M438.1 126.0h0M438.2 136.1h0M438.5 128.7h0M438.9 134.7h0M439.2 133.7h0M439.5 134.7h0M439.9 133.0h0M440.2 135.6h0M440.5 133.2h0M440.9 137.4h0M441.2 138.8h0M441.5 140.3h0M441.8 142.1h0M442.1 126.5h0M442.2 139.7h0M442.5 142.5h0M442.8 138.2h0M443.2 142.0h0M443.5 143.0h0M443.8 137.1h0M444.2 134.2h0M444.5 133.0h0M444.8 134.9h0M445.1 132.7h0M445.5 133.7h0M445.8 135.5h0M446.1 141.2h0M446.5 137.2h0M446.8 135.1h0M447.1 137.8h0M447.5 139.3h0M447.8 130.7h0M448.1 138.9h0M448.4 135.3h0M448.8 139.9h0M448.9 144.5h0M449.1 134.4h0M449.4 141.4h0M449.8 132.4h0M450.1 131.7h0M450.4 136.4h0M450.8 136.5h0M451.1 137.7h0M451.4 140.8h0M451.7 134.4h0M452.1 140.9h0M452.4 141.8h0M452.7 136.7h0M453.1 139.7h0M453.4 134.0h0M453.7 135.4h0M454.1 133.6h0M454.4 136.6h0M454.7 132.1h0M455.0 141.2h0M455.4 138.4h0M455.7 139.1h0M456.0 136.9h0M456.4 132.4h0M456.4 126.9h0M456.7 128.4h0M457.0 138.0h0M457.4 138.4h0M457.7 137.9h0M458.0 128.9h0M458.3 136.0h0M458.7 133.6h0M459.0 129.9h0M459.3 132.5h0M459.7 124.5h0M460.0 130.6h0M460.3 135.4h0M460.7 130.1h0M461.0 129.5h0M461.3 138.1h0M461.6 134.9h0M462.0 137.0h0M462.3 136.9h0M462.6 138.6h0M463.0 130.0h0M463.3 134.5h0M463.6 130.3h0M464.0 137.2h0M464.3 134.8h0M464.6 140.8h0M464.9 138.3h0M464.8 150.0h0M464.8 157.3h0M465.0 148.0h0M465.3 136.7h0M465.6 131.6h0M465.9 130.8h0M466.3 133.2h0M466.6 130.9h0M466.9 134.9h0M467.3 135.7h0M467.6 135.3h0M467.6 125.0h0M467.4 115.0h0M467.4 110.0h0M467.9 128.0h0M468.2 143.9h0M468.6 132.7h0M468.5 96.9h0M468.7 86.5h0M468.5 96.9h0M468.4 110.0h0M468.8 125.0h0M468.6 140.0h0M468.4 155.0h0M468.8 163.0h0M468.7 167.8h0M468.5 158.0h0M468.7 145.0h0M468.9 142.7h0M469.2 133.7h0M469.3 110.0h0M469.4 125.0h0M469.6 138.9h0M469.9 128.0h0M470.2 140.5h0M470.6 135.6h0M470.9 130.9h0M471.2 134.5h0M471.5 127.8h0M471.9 140.5h0M472.2 124.7h0M472.5 132.6h0M472.9 130.2h0M473.2 129.7h0M473.7 120.0h0M473.5 134.6h0M473.9 128.8h0M474.2 133.5h0M474.5 127.0h0M474.8 129.1h0M475.2 138.4h0M475.1 122.0h0M475.1 140.0h0M475.6 117.0h0M475.2 110.0h0M475.5 118.0h0M475.2 125.0h0M475.5 125.3h0" fill="none" stroke="#7030A0" stroke-width="4.8" stroke-linecap="round"/>
<path d="M295.3 236.4 L295.6 236.7 L296.0 236.1 L296.3 235.3 L296.6 235.8 L296.9 236.2 L297.3 235.6 L297.6 236.3 L297.9 235.8 L298.3 234.9 L298.6 234.6 L298.9 235.9 L299.3 234.9 L299.6 235.0 L299.9 235.8 L300.2 235.3 L300.6 235.5 L300.9 235.2 L301.2 236.3 L301.6 235.9 L301.9 235.1 L302.2 235.4 L302.6 234.9 L302.9 235.9 L303.2 235.5 L303.5 235.7 L303.9 236.2 L304.2 235.3 L304.5 236.3 L304.9 236.2 L305.2 235.0 L305.8 238.0 L306.2 235.1 L306.5 233.0 L306.9 230.9 L307.2 230.4 L307.5 229.3 L307.8 229.7 L308.2 228.7 L308.5 227.3 L308.8 226.8 L309.2 228.4 L309.5 228.5 L309.8 227.0 L310.2 227.4 L310.5 227.6 L310.8 227.7 L311.1 224.3 L311.5 224.0 L311.8 223.2 L312.1 224.9 L312.5 223.0 L312.8 223.9 L313.1 225.6 L313.5 224.0 L313.8 225.5 L314.1 222.1 L314.4 223.9 L314.8 225.0 L315.1 226.0 L315.4 222.8 L315.8 222.9 L316.1 224.6 L316.4 223.4 L316.8 224.9 L317.1 224.1 L317.4 224.1 L317.7 225.8 L318.1 226.5 L318.4 225.5 L318.7 225.2 L319.1 227.1 L319.4 226.1 L319.7 224.2 L320.1 226.7 L320.4 227.1 L320.7 226.1 L321.0 224.9 L321.4 223.8 L321.7 225.3 L322.0 224.7 L322.4 226.4 L322.7 223.8 L323.0 224.6 L323.4 227.2 L323.7 225.4 L324.0 224.5 L324.3 223.6 L324.7 223.6 L325.0 223.9 L325.3 225.0 L325.7 225.5 L326.0 226.5 L326.3 224.8 L326.7 225.3 L327.0 225.0 L327.3 226.4 L327.6 226.3 L328.0 222.1 L328.3 222.8 L328.6 222.3 L329.0 224.5 L329.3 225.5 L329.6 224.4 L330.0 221.5 L330.3 223.3 L330.6 222.8 L330.9 221.6 L331.3 225.5 L331.6 226.3 L331.9 222.9 L332.3 225.7 L332.6 226.3 L332.9 226.3 L333.3 224.1 L333.6 224.5 L333.9 223.1 L334.2 227.0 L334.6 226.0 L334.9 223.4 L335.2 225.5 L335.6 226.8 L335.9 225.2 L336.2 223.1 L336.6 224.7 L336.9 226.0 L337.2 222.8 L337.5 222.7 L337.9 225.4 L338.2 224.2 L338.5 224.4 L338.9 224.5 L339.2 222.3 L339.5 223.1 L339.9 223.2 L340.2 223.2 L340.5 224.3 L340.8 223.7 L341.2 223.3 L341.5 225.9 L341.8 224.5 L342.2 225.0 L342.5 222.7 L342.8 223.8 L343.2 225.1 L343.5 223.6 L343.8 226.2 L344.1 222.9 L344.5 223.6 L344.8 225.2 L345.1 222.9 L345.5 222.7 L345.8 224.9 L346.1 224.7 L346.5 224.2 L346.8 222.6 L347.1 225.1 L347.4 222.9 L347.8 224.0 L348.1 222.6 L348.4 222.3 L348.8 223.9 L349.1 222.7 L349.4 226.5 L349.8 222.7 L350.1 221.5 L350.4 230.5 L350.4 221.7 L350.7 218.7 L351.0 213.5 L351.1 223.2 L351.4 220.5 L351.7 218.4 L352.1 220.2 L352.4 218.8 L352.7 222.0 L353.1 217.6 L353.4 217.4 L353.7 221.0 L354.0 222.8 L354.4 221.1 L354.7 217.3 L355.0 217.0 L355.4 221.5 L355.7 221.5 L356.0 221.8 L356.4 223.7 L356.7 217.6 L357.1 214.2 L357.0 223.4 L357.3 218.9 L357.7 222.7 L358.0 220.6 L358.3 218.1 L358.7 220.4 L359.0 224.5 L359.3 224.0 L359.7 223.7 L360.0 224.3 L360.3 224.2 L360.6 219.4 L361.0 221.2 L361.3 220.5 L361.6 221.9 L362.0 219.9 L362.0 228.0 L362.3 220.8 L362.6 219.3 L363.0 219.9 L363.3 222.6 L363.6 221.4 L363.9 224.0 L364.3 220.5 L364.6 220.6 L364.9 223.3 L365.3 222.7 L365.6 220.9 L365.9 220.0 L366.3 222.9 L366.6 219.3 L366.9 223.0 L367.2 222.2 L367.6 222.3 L367.9 218.1 L368.2 217.8 L368.6 220.8 L368.9 223.6 L369.2 218.7 L369.6 217.9 L369.9 221.9 L370.2 219.5 L370.5 220.2 L370.9 222.8 L371.2 222.6 L371.5 219.6 L371.9 223.1 L372.2 217.7 L372.5 222.5 L372.9 218.6 L373.2 222.1 L373.5 217.5 L373.8 218.7 L374.2 222.1 L374.5 218.8 L374.8 216.8 L375.2 218.8 L375.5 216.3 L375.8 221.2 L376.2 220.7 L376.5 216.1 L376.8 220.7 L377.1 218.3 L377.5 221.9 L377.8 217.9 L378.1 220.1 L378.5 216.6 L378.8 220.6 L379.1 219.7 L379.5 217.7 L379.8 219.0 L380.1 222.1 L380.4 222.6 L380.8 221.7 L381.1 219.9 L381.4 216.3 L381.8 221.4 L382.1 221.1 L382.4 222.5 L382.8 218.6 L383.1 220.4 L383.4 221.9 L383.7 219.2 L384.1 217.6 L384.4 222.1 L384.7 223.8 L385.1 220.6 L385.4 217.8 L385.7 218.5 L386.1 220.7 L386.4 219.8 L386.7 221.3 L387.0 219.0 L387.4 221.1 L387.7 223.4 L388.0 223.5 L388.4 219.9 L388.7 221.4 L389.0 218.2 L389.4 220.0 L389.7 221.9 L390.0 219.7 L390.3 223.1 L390.7 220.3 L391.0 219.9 L391.3 218.6 L391.7 221.9 L392.0 220.2 L392.3 222.8 L392.7 223.0 L393.0 223.4 L393.3 219.0 L393.6 222.0 L394.0 220.8 L394.3 218.9 L394.6 221.8 L395.0 219.3 L395.3 218.5 L395.6 218.7 L396.0 219.7 L396.3 218.5 L396.6 221.7 L396.9 219.7 L397.3 221.2 L397.6 222.8 L397.9 219.1 L398.3 223.1 L398.6 222.6 L398.9 220.7 L399.3 223.1 L399.6 218.5 L399.9 218.1 L400.2 224.3 L400.6 219.7 L400.9 219.2 L401.2 221.6 L401.6 224.0 L401.9 223.6 L402.2 221.7 L402.6 219.5 L402.9 219.6 L403.2 220.2 L403.5 218.4 L403.9 218.6 L404.2 219.6 L404.5 223.7 L404.9 223.2 L405.2 220.3 L405.5 219.2 L405.9 222.6 L406.2 218.8 L406.5 223.3 L406.8 221.2 L407.2 218.1 L407.5 220.1 L407.8 219.9 L408.2 223.0 L408.5 221.5 L408.8 218.1 L409.2 218.9 L409.5 217.7 L409.8 218.6 L410.1 219.5 L410.5 221.2 L410.8 222.0 L411.1 217.7 L411.5 221.3 L411.8 219.3 L412.1 217.8 L412.5 220.1 L412.8 222.3 L413.1 222.0 L413.4 222.7 L413.8 219.2 L414.1 220.6 L414.4 221.3 L414.8 220.0 L415.1 222.6 L415.4 222.6 L415.8 221.0 L416.1 217.6 L416.4 218.5 L416.7 221.6 L417.1 221.6 L417.4 220.6 L417.7 217.3 L418.1 218.7 L418.4 217.0 L418.7 221.8 L419.1 217.1 L419.4 220.0 L419.7 219.5 L420.0 219.3 L420.4 223.7 L420.7 222.9 L421.0 217.1 L421.4 220.7 L421.7 218.4 L421.9 226.5 L422.0 221.8 L422.4 220.8 L422.7 219.4 L423.0 217.3 L423.3 221.3 L423.7 220.3 L424.0 217.1 L424.3 222.0 L424.7 217.7 L425.0 217.6 L425.3 219.1 L425.7 217.7 L426.0 218.1 L426.3 220.5 L426.6 215.9 L427.0 218.0 L427.3 220.7 L427.6 222.9 L428.0 216.7 L428.3 219.5 L428.6 219.7 L429.0 217.8 L429.3 220.9 L429.6 220.5 L429.9 223.3 L430.3 218.9 L430.6 223.7 L430.9 222.1 L431.3 220.6 L431.4 226.0 L431.6 221.2 L431.9 217.8 L432.3 223.0 L432.6 217.1 L432.9 221.1 L433.2 219.9 L433.6 218.7 L433.9 221.5 L434.2 220.9 L434.6 221.7 L434.9 219.5 L435.2 220.5 L435.6 217.3 L435.9 218.3 L436.2 218.3 L436.5 221.6 L436.9 221.0 L437.2 224.4 L437.5 220.9 L437.9 217.2 L438.2 219.3 L438.5 216.8 L438.9 218.1 L439.2 218.8 L439.5 218.0 L439.8 218.8 L440.2 222.5 L440.5 222.2 L440.8 218.1 L441.2 220.6 L441.5 219.1 L441.8 223.0 L442.2 218.9 L442.5 220.7 L442.8 223.8 L443.1 221.4 L443.5 217.6 L443.8 223.2 L444.1 220.6 L444.5 216.8 L444.8 216.8 L445.1 221.6 L445.5 218.1 L445.8 218.5 L446.1 216.4 L446.4 215.9 L446.8 216.8 L447.1 216.6 L447.4 218.7 L447.8 217.8 L448.1 216.9 L448.4 217.5 L448.8 219.9 L449.1 223.3 L449.4 218.1 L449.7 221.8 L450.1 219.8 L450.4 219.2 L450.7 219.8 L451.1 219.9 L451.4 222.2 L451.7 223.2 L452.1 219.2 L452.4 221.1 L452.7 222.4 L453.0 220.3 L453.4 219.3 L453.7 223.5 L454.0 223.8 L454.4 222.9 L454.7 218.7 L455.0 221.6 L455.4 220.8 L455.7 222.7 L456.0 218.4 L456.3 217.7 L456.7 221.0 L457.0 220.4 L457.3 219.0 L457.7 220.3 L458.0 216.9 L458.3 218.2 L458.7 218.1 L459.0 220.7 L459.3 218.6 L459.6 219.6 L460.0 222.7 L460.3 221.8 L460.6 219.9 L461.0 218.6 L461.3 222.0 L461.6 223.0 L462.0 219.2 L462.3 220.6 L462.6 219.9 L462.9 223.1 L463.3 221.9 L463.6 218.3 L463.9 218.6 L464.3 217.8 L464.6 221.9 L464.9 222.7 L465.3 222.7 L465.6 218.7 L465.9 216.9 L466.2 218.5 L466.6 224.1 L466.9 214.3 L467.2 217.1 L467.6 214.6 L467.9 223.7 L468.2 209.8 L468.2 217.9 L468.6 227.6 L468.8 229.3 L468.9 226.7 L469.2 229.5 L469.5 224.7 L469.9 224.6 L470.2 226.1 L470.5 222.5 L470.9 220.5 L471.2 224.4 L471.5 225.1 L471.9 222.5 L472.2 211.0 L472.2 221.8 L472.5 226.2 L472.8 215.2 L473.2 222.8 L473.5 221.9 L473.8 225.5 L474.2 219.1 L474.5 223.1 L474.8 214.6 L475.2 223.6 L475.5 221.8" fill="none" stroke="#7030A0" stroke-width="2.8" stroke-linejoin="round" stroke-linecap="round"/>
<path d="M295.3 236.4h0M295.6 236.7h0M296.0 236.1h0M296.3 235.3h0M296.6 235.8h0M296.9 236.2h0M297.3 235.6h0M297.6 236.3h0M297.9 235.8h0M298.3 234.9h0M298.6 234.6h0M298.9 235.9h0M299.3 234.9h0M299.6 235.0h0M299.9 235.8h0M300.2 235.3h0M300.6 235.5h0M300.9 235.2h0M301.2 236.3h0M301.6 235.9h0M301.9 235.1h0M302.2 235.4h0M302.6 234.9h0M302.9 235.9h0M303.2 235.5h0M303.5 235.7h0M303.9 236.2h0M304.2 235.3h0M304.5 236.3h0M304.9 236.2h0M305.2 235.0h0M305.8 238.0h0M306.2 235.1h0M306.5 233.0h0M306.9 230.9h0M307.2 230.4h0M307.5 229.3h0M307.8 229.7h0M308.2 228.7h0M308.5 227.3h0M308.8 226.8h0M309.2 228.4h0M309.5 228.5h0M309.8 227.0h0M310.2 227.4h0M310.5 227.6h0M310.8 227.7h0M311.1 224.3h0M311.5 224.0h0M311.8 223.2h0M312.1 224.9h0M312.5 223.0h0M312.8 223.9h0M313.1 225.6h0M313.5 224.0h0M313.8 225.5h0M314.1 222.1h0M314.4 223.9h0M314.8 225.0h0M315.1 226.0h0M315.4 222.8h0M315.8 222.9h0M316.1 224.6h0M316.4 223.4h0M316.8 224.9h0M317.1 224.1h0M317.4 224.1h0M317.7 225.8h0M318.1 226.5h0M318.4 225.5h0M318.7 225.2h0M319.1 227.1h0M319.4 226.1h0M319.7 224.2h0M320.1 226.7h0M320.4 227.1h0M320.7 226.1h0M321.0 224.9h0M321.4 223.8h0M321.7 225.3h0M322.0 224.7h0M322.4 226.4h0M322.7 223.8h0M323.0 224.6h0M323.4 227.2h0M323.7 225.4h0M324.0 224.5h0M324.3 223.6h0M324.7 223.6h0M325.0 223.9h0M325.3 225.0h0M325.7 225.5h0M326.0 226.5h0M326.3 224.8h0M326.7 225.3h0M327.0 225.0h0M327.3 226.4h0M327.6 226.3h0M328.0 222.1h0M328.3 222.8h0M328.6 222.3h0M329.0 224.5h0M329.3 225.5h0M329.6 224.4h0M330.0 221.5h0M330.3 223.3h0M330.6 222.8h0M330.9 221.6h0M331.3 225.5h0M331.6 226.3h0M331.9 222.9h0M332.3 225.7h0M332.6 226.3h0M332.9 226.3h0M333.3 224.1h0M333.6 224.5h0M333.9 223.1h0M334.2 227.0h0M334.6 226.0h0M334.9 223.4h0M335.2 225.5h0M335.6 226.8h0M335.9 225.2h0M336.2 223.1h0M336.6 224.7h0M336.9 226.0h0M337.2 222.8h0M337.5 222.7h0M337.9 225.4h0M338.2 224.2h0M338.5 224.4h0M338.9 224.5h0M339.2 222.3h0M339.5 223.1h0M339.9 223.2h0M340.2 223.2h0M340.5 224.3h0M340.8 223.7h0M341.2 223.3h0M341.5 225.9h0M341.8 224.5h0M342.2 225.0h0M342.5 222.7h0M342.8 223.8h0M343.2 225.1h0M343.5 223.6h0M343.8 226.2h0M344.1 222.9h0M344.5 223.6h0M344.8 225.2h0M345.1 222.9h0M345.5 222.7h0M345.8 224.9h0M346.1 224.7h0M346.5 224.2h0M346.8 222.6h0M347.1 225.1h0M347.4 222.9h0M347.8 224.0h0M348.1 222.6h0M348.4 222.3h0M348.8 223.9h0M349.1 222.7h0M349.4 226.5h0M349.8 222.7h0M350.1 221.5h0M350.4 230.5h0M350.4 221.7h0M350.7 218.7h0M351.0 213.5h0M351.1 223.2h0M351.4 220.5h0M351.7 218.4h0M352.1 220.2h0M352.4 218.8h0M352.7 222.0h0M353.1 217.6h0M353.4 217.4h0M353.7 221.0h0M354.0 222.8h0M354.4 221.1h0M354.7 217.3h0M355.0 217.0h0M355.4 221.5h0M355.7 221.5h0M356.0 221.8h0M356.4 223.7h0M356.7 217.6h0M357.1 214.2h0M357.0 223.4h0M357.3 218.9h0M357.7 222.7h0M358.0 220.6h0M358.3 218.1h0M358.7 220.4h0M359.0 224.5h0M359.3 224.0h0M359.7 223.7h0M360.0 224.3h0M360.3 224.2h0M360.6 219.4h0M361.0 221.2h0M361.3 220.5h0M361.6 221.9h0M362.0 219.9h0M362.0 228.0h0M362.3 220.8h0M362.6 219.3h0M363.0 219.9h0M363.3 222.6h0M363.6 221.4h0M363.9 224.0h0M364.3 220.5h0M364.6 220.6h0M364.9 223.3h0M365.3 222.7h0M365.6 220.9h0M365.9 220.0h0M366.3 222.9h0M366.6 219.3h0M366.9 223.0h0M367.2 222.2h0M367.6 222.3h0M367.9 218.1h0M368.2 217.8h0M368.6 220.8h0M368.9 223.6h0M369.2 218.7h0M369.6 217.9h0M369.9 221.9h0M370.2 219.5h0M370.5 220.2h0M370.9 222.8h0M371.2 222.6h0M371.5 219.6h0M371.9 223.1h0M372.2 217.7h0M372.5 222.5h0M372.9 218.6h0M373.2 222.1h0M373.5 217.5h0M373.8 218.7h0M374.2 222.1h0M374.5 218.8h0M374.8 216.8h0M375.2 218.8h0M375.5 216.3h0M375.8 221.2h0M376.2 220.7h0M376.5 216.1h0M376.8 220.7h0M377.1 218.3h0M377.5 221.9h0M377.8 217.9h0M378.1 220.1h0M378.5 216.6h0M378.8 220.6h0M379.1 219.7h0M379.5 217.7h0M379.8 219.0h0M380.1 222.1h0M380.4 222.6h0M380.8 221.7h0M381.1 219.9h0M381.4 216.3h0M381.8 221.4h0M382.1 221.1h0M382.4 222.5h0M382.8 218.6h0M383.1 220.4h0M383.4 221.9h0M383.7 219.2h0M384.1 217.6h0M384.4 222.1h0M384.7 223.8h0M385.1 220.6h0M385.4 217.8h0M385.7 218.5h0M386.1 220.7h0M386.4 219.8h0M386.7 221.3h0M387.0 219.0h0M387.4 221.1h0M387.7 223.4h0M388.0 223.5h0M388.4 219.9h0M388.7 221.4h0M389.0 218.2h0M389.4 220.0h0M389.7 221.9h0M390.0 219.7h0M390.3 223.1h0M390.7 220.3h0M391.0 219.9h0M391.3 218.6h0M391.7 221.9h0M392.0 220.2h0M392.3 222.8h0M392.7 223.0h0M393.0 223.4h0M393.3 219.0h0M393.6 222.0h0M394.0 220.8h0M394.3 218.9h0M394.6 221.8h0M395.0 219.3h0M395.3 218.5h0M395.6 218.7h0M396.0 219.7h0M396.3 218.5h0M396.6 221.7h0M396.9 219.7h0M397.3 221.2h0M397.6 222.8h0M397.9 219.1h0M398.3 223.1h0M398.6 222.6h0M398.9 220.7h0M399.3 223.1h0M399.6 218.5h0M399.9 218.1h0M400.2 224.3h0M400.6 219.7h0M400.9 219.2h0M401.2 221.6h0M401.6 224.0h0M401.9 223.6h0M402.2 221.7h0M402.6 219.5h0M402.9 219.6h0M403.2 220.2h0M403.5 218.4h0M403.9 218.6h0M404.2 219.6h0M404.5 223.7h0M404.9 223.2h0M405.2 220.3h0M405.5 219.2h0M405.9 222.6h0M406.2 218.8h0M406.5 223.3h0M406.8 221.2h0M407.2 218.1h0M407.5 220.1h0M407.8 219.9h0M408.2 223.0h0M408.5 221.5h0M408.8 218.1h0M409.2 218.9h0M409.5 217.7h0M409.8 218.6h0M410.1 219.5h0M410.5 221.2h0M410.8 222.0h0M411.1 217.7h0M411.5 221.3h0M411.8 219.3h0M412.1 217.8h0M412.5 220.1h0M412.8 222.3h0M413.1 222.0h0M413.4 222.7h0M413.8 219.2h0M414.1 220.6h0M414.4 221.3h0M414.8 220.0h0M415.1 222.6h0M415.4 222.6h0M415.8 221.0h0M416.1 217.6h0M416.4 218.5h0M416.7 221.6h0M417.1 221.6h0M417.4 220.6h0M417.7 217.3h0M418.1 218.7h0M418.4 217.0h0M418.7 221.8h0M419.1 217.1h0M419.4 220.0h0M419.7 219.5h0M420.0 219.3h0M420.4 223.7h0M420.7 222.9h0M421.0 217.1h0M421.4 220.7h0M421.7 218.4h0M421.9 226.5h0M422.0 221.8h0M422.4 220.8h0M422.7 219.4h0M423.0 217.3h0M423.3 221.3h0M423.7 220.3h0M424.0 217.1h0M424.3 222.0h0M424.7 217.7h0M425.0 217.6h0M425.3 219.1h0M425.7 217.7h0M426.0 218.1h0M426.3 220.5h0M426.6 215.9h0M427.0 218.0h0M427.3 220.7h0M427.6 222.9h0M428.0 216.7h0M428.3 219.5h0M428.6 219.7h0M429.0 217.8h0M429.3 220.9h0M429.6 220.5h0M429.9 223.3h0M430.3 218.9h0M430.6 223.7h0M430.9 222.1h0M431.3 220.6h0M431.4 226.0h0M431.6 221.2h0M431.9 217.8h0M432.3 223.0h0M432.6 217.1h0M432.9 221.1h0M433.2 219.9h0M433.6 218.7h0M433.9 221.5h0M434.2 220.9h0M434.6 221.7h0M434.9 219.5h0M435.2 220.5h0M435.6 217.3h0M435.9 218.3h0M436.2 218.3h0M436.5 221.6h0M436.9 221.0h0M437.2 224.4h0M437.5 220.9h0M437.9 217.2h0M438.2 219.3h0M438.5 216.8h0M438.9 218.1h0M439.2 218.8h0M439.5 218.0h0M439.8 218.8h0M440.2 222.5h0M440.5 222.2h0M440.8 218.1h0M441.2 220.6h0M441.5 219.1h0M441.8 223.0h0M442.2 218.9h0M442.5 220.7h0M442.8 223.8h0M443.1 221.4h0M443.5 217.6h0M443.8 223.2h0M444.1 220.6h0M444.5 216.8h0M444.8 216.8h0M445.1 221.6h0M445.5 218.1h0M445.8 218.5h0M446.1 216.4h0M446.4 215.9h0M446.8 216.8h0M447.1 216.6h0M447.4 218.7h0M447.8 217.8h0M448.1 216.9h0M448.4 217.5h0M448.8 219.9h0M449.1 223.3h0M449.4 218.1h0M449.7 221.8h0M450.1 219.8h0M450.4 219.2h0M450.7 219.8h0M451.1 219.9h0M451.4 222.2h0M451.7 223.2h0M452.1 219.2h0M452.4 221.1h0M452.7 222.4h0M453.0 220.3h0M453.4 219.3h0M453.7 223.5h0M454.0 223.8h0M454.4 222.9h0M454.7 218.7h0M455.0 221.6h0M455.4 220.8h0M455.7 222.7h0M456.0 218.4h0M456.3 217.7h0M456.7 221.0h0M457.0 220.4h0M457.3 219.0h0M457.7 220.3h0M458.0 216.9h0M458.3 218.2h0M458.7 218.1h0M459.0 220.7h0M459.3 218.6h0M459.6 219.6h0M460.0 222.7h0M460.3 221.8h0M460.6 219.9h0M461.0 218.6h0M461.3 222.0h0M461.6 223.0h0M462.0 219.2h0M462.3 220.6h0M462.6 219.9h0M462.9 223.1h0M463.3 221.9h0M463.6 218.3h0M463.9 218.6h0M464.3 217.8h0M464.6 221.9h0M464.9 222.7h0M465.3 222.7h0M465.6 218.7h0M465.9 216.9h0M466.2 218.5h0M466.6 224.1h0M466.9 214.3h0M467.2 217.1h0M467.6 214.6h0M467.9 223.7h0M468.2 209.8h0M468.2 217.9h0M468.6 227.6h0M468.8 229.3h0M468.9 226.7h0M469.2 229.5h0M469.5 224.7h0M469.9 224.6h0M470.2 226.1h0M470.5 222.5h0M470.9 220.5h0M471.2 224.4h0M471.5 225.1h0M471.9 222.5h0M472.2 211.0h0M472.2 221.8h0M472.5 226.2h0M472.8 215.2h0M473.2 222.8h0M473.5 221.9h0M473.8 225.5h0M474.2 219.1h0M474.5 223.1h0M474.8 214.6h0M475.2 223.6h0M475.5 221.8h0" fill="none" stroke="#7030A0" stroke-width="4.8" stroke-linecap="round"/>
<g font-family="'Liberation Serif', 'Times New Roman', serif" fill="#000" stroke="#000" stroke-width="0.2">
<path d="M114 13.8h32.4" stroke="#000000" stroke-width="2.2"/><circle cx="130.2" cy="13.8" r="2.2" fill="#000000" stroke="none"/>
<text x="148.7" y="19.4" font-size="17.5" textLength="64.3">1 ml/min</text>
<path d="M225 13.8h32.4" stroke="#FF9900" stroke-width="2.2"/><circle cx="241.2" cy="13.8" r="2.2" fill="#FF9900" stroke="none"/>
<text x="259.6" y="19.4" font-size="17.5" textLength="64.3">2 ml/min</text>
<path d="M335.6 13.8h32.4" stroke="#00B050" stroke-width="2.2"/><circle cx="351.8" cy="13.8" r="2.2" fill="#00B050" stroke="none"/>
<text x="370.4" y="19.4" font-size="17.5" textLength="64.3">4 ml/min</text>
<path d="M114 43.1h32.4" stroke="#0070C0" stroke-width="2.2"/><circle cx="130.2" cy="43.1" r="2.2" fill="#0070C0" stroke="none"/>
<text x="148.9" y="48.7" font-size="17.5" textLength="64.3">6 ml/min</text>
<path d="M225 43.1h32.4" stroke="#FF0000" stroke-width="2.2"/><circle cx="241.2" cy="43.1" r="2.2" fill="#FF0000" stroke="none"/>
<text x="259.6" y="48.7" font-size="17.5" textLength="64.3">8 ml/min</text>
<path d="M335.6 43.1h32.4" stroke="#7030A0" stroke-width="2.2"/><circle cx="351.8" cy="43.1" r="2.2" fill="#7030A0" stroke="none"/>
<text x="370.8" y="48.7" font-size="17.5" textLength="73.0">16 ml/min</text>
<text x="42.75" y="274.1" font-size="15.5" textLength="8.25">0</text>
<text x="37.58" y="254.4" font-size="15.5" textLength="20.62">6.9</text>
<text x="29.33" y="234.7" font-size="15.5" textLength="28.88">13.8</text>
<text x="29.33" y="215.1" font-size="15.5" textLength="28.88">20.7</text>
<text x="29.33" y="195.4" font-size="15.5" textLength="28.88">27.6</text>
<text x="29.33" y="175.7" font-size="15.5" textLength="28.88">34.5</text>
<text x="29.33" y="156.0" font-size="15.5" textLength="28.88">41.4</text>
<text x="29.33" y="136.3" font-size="15.5" textLength="28.88">48.3</text>
<text x="29.33" y="116.7" font-size="15.5" textLength="28.88">55.2</text>
<text x="30.33" y="97.0" font-size="15.5" textLength="28.88">62.1</text>
<text x="29.33" y="77.3" font-size="15.5" textLength="28.88">68.9</text>
<text x="62.47" y="295.6" font-size="15.5" textLength="8.25">0</text>
<text x="124.95" y="295.6" font-size="15.5" textLength="16.50">20</text>
<text x="191.55" y="295.6" font-size="15.5" textLength="16.50">40</text>
<text x="258.15" y="295.6" font-size="15.5" textLength="16.50">60</text>
<text x="324.75" y="295.6" font-size="15.5" textLength="16.50">80</text>
<text x="387.22" y="295.6" font-size="15.5" textLength="24.75">100</text>
<text x="453.82" y="295.6" font-size="15.5" textLength="24.75">120</text>
<text x="520.42" y="295.6" font-size="15.5" textLength="24.75">140</text>
<text x="222" y="321.5" font-size="17.5" textLength="154">Pore Volume Injected</text>
<text transform="translate(18.8,252.5) rotate(-90)" font-size="17.5" textLength="161.2">Injection Pressure, kPa</text>
</g></svg>
</body></html>
